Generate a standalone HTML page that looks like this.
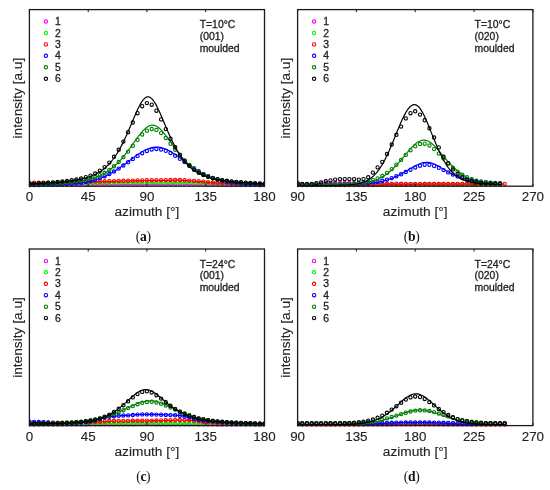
<!DOCTYPE html><html><head><meta charset="utf-8"><title>Azimuthal intensity profiles</title><style>html,body{margin:0;padding:0;background:#fff;}svg{display:block;}.t{font-family:"Liberation Sans", Arial, Helvetica, sans-serif;fill:#222;stroke:#222;stroke-width:0.12px;}.s{stroke-width:0.3px;}.c{font-family:"Liberation Serif", "Times New Roman", serif;fill:#111;}</style></head><body>
<svg width="550" height="490" viewBox="0 0 550 490">
<rect width="550" height="490" fill="#fff"/>
<g><clipPath id="cla"><rect x="29.4" y="9.6" width="235.1" height="179.6"/></clipPath><g clip-path="url(#cla)"><g fill="none" stroke="#ff00ff" stroke-width="1.1"><circle cx="29.4" cy="185" r="1.65"/><circle cx="34.1" cy="185" r="1.65"/><circle cx="38.8" cy="185" r="1.65"/><circle cx="43.5" cy="184.9" r="1.65"/><circle cx="48.2" cy="184.9" r="1.65"/><circle cx="52.9" cy="184.9" r="1.65"/><circle cx="57.6" cy="184.9" r="1.65"/><circle cx="62.3" cy="184.8" r="1.65"/><circle cx="67" cy="184.8" r="1.65"/><circle cx="71.7" cy="184.8" r="1.65"/><circle cx="76.4" cy="184.8" r="1.65"/><circle cx="81.1" cy="184.7" r="1.65"/><circle cx="85.8" cy="184.7" r="1.65"/><circle cx="90.5" cy="184.7" r="1.65"/><circle cx="95.2" cy="184.7" r="1.65"/><circle cx="99.9" cy="184.6" r="1.65"/><circle cx="104.6" cy="184.6" r="1.65"/><circle cx="109.3" cy="184.6" r="1.65"/><circle cx="114" cy="184.6" r="1.65"/><circle cx="118.7" cy="184.5" r="1.65"/><circle cx="123.4" cy="184.5" r="1.65"/><circle cx="128.1" cy="184.5" r="1.65"/><circle cx="132.8" cy="184.4" r="1.65"/><circle cx="137.5" cy="184.4" r="1.65"/><circle cx="142.2" cy="184.4" r="1.65"/><circle cx="146.9" cy="184.4" r="1.65"/><circle cx="151.7" cy="184.3" r="1.65"/><circle cx="156.4" cy="184.3" r="1.65"/><circle cx="161.1" cy="184.3" r="1.65"/><circle cx="165.8" cy="184.3" r="1.65"/><circle cx="170.5" cy="184.2" r="1.65"/><circle cx="175.2" cy="184.2" r="1.65"/><circle cx="179.9" cy="184.2" r="1.65"/><circle cx="184.6" cy="184.3" r="1.65"/><circle cx="189.3" cy="184.3" r="1.65"/><circle cx="194" cy="184.3" r="1.65"/><circle cx="198.7" cy="184.4" r="1.65"/><circle cx="203.4" cy="184.4" r="1.65"/><circle cx="208.1" cy="184.5" r="1.65"/><circle cx="212.8" cy="184.6" r="1.65"/><circle cx="217.5" cy="184.7" r="1.65"/><circle cx="222.2" cy="184.8" r="1.65"/><circle cx="226.9" cy="184.9" r="1.65"/><circle cx="231.6" cy="185" r="1.65"/><circle cx="236.3" cy="185" r="1.65"/><circle cx="241" cy="185.1" r="1.65"/><circle cx="245.7" cy="185.1" r="1.65"/><circle cx="250.4" cy="185.1" r="1.65"/><circle cx="255.1" cy="185.1" r="1.65"/><circle cx="259.8" cy="185.2" r="1.65"/><circle cx="264.5" cy="185.2" r="1.65"/></g><polyline fill="none" stroke="#ff00ff" stroke-width="1.2" stroke-linejoin="round" points="29.4,185 30.6,185 31.8,185 32.9,185 34.1,185 35.3,185 36.5,185 37.6,185 38.8,185 40,184.9 41.2,184.9 42.3,184.9 43.5,184.9 44.7,184.9 45.9,184.9 47,184.9 48.2,184.9 49.4,184.9 50.6,184.9 51.7,184.9 52.9,184.9 54.1,184.9 55.3,184.9 56.4,184.9 57.6,184.9 58.8,184.9 60,184.8 61.1,184.8 62.3,184.8 63.5,184.8 64.7,184.8 65.8,184.8 67,184.8 68.2,184.8 69.4,184.8 70.5,184.8 71.7,184.8 72.9,184.8 74.1,184.8 75.2,184.8 76.4,184.8 77.6,184.8 78.8,184.8 79.9,184.7 81.1,184.7 82.3,184.7 83.5,184.7 84.6,184.7 85.8,184.7 87,184.7 88.2,184.7 89.4,184.7 90.5,184.7 91.7,184.7 92.9,184.7 94.1,184.7 95.2,184.7 96.4,184.7 97.6,184.7 98.8,184.6 99.9,184.6 101.1,184.6 102.3,184.6 103.5,184.6 104.6,184.6 105.8,184.6 107,184.6 108.2,184.6 109.3,184.6 110.5,184.6 111.7,184.6 112.9,184.6 114,184.6 115.2,184.5 116.4,184.5 117.6,184.5 118.7,184.5 119.9,184.5 121.1,184.5 122.3,184.5 123.4,184.5 124.6,184.5 125.8,184.5 127,184.5 128.1,184.5 129.3,184.5 130.5,184.5 131.7,184.4 132.8,184.4 134,184.4 135.2,184.4 136.4,184.4 137.5,184.4 138.7,184.4 139.9,184.4 141.1,184.4 142.2,184.4 143.4,184.4 144.6,184.4 145.8,184.4 147,184.4 148.1,184.4 149.3,184.4 150.5,184.3 151.7,184.3 152.8,184.3 154,184.3 155.2,184.3 156.4,184.3 157.5,184.3 158.7,184.3 159.9,184.3 161.1,184.3 162.2,184.3 163.4,184.3 164.6,184.3 165.8,184.3 166.9,184.3 168.1,184.3 169.3,184.3 170.5,184.2 171.6,184.2 172.8,184.2 174,184.2 175.2,184.2 176.3,184.2 177.5,184.2 178.7,184.2 179.9,184.2 181,184.2 182.2,184.2 183.4,184.2 184.6,184.3 185.7,184.3 186.9,184.3 188.1,184.3 189.3,184.3 190.4,184.3 191.6,184.3 192.8,184.3 194,184.3 195.1,184.4 196.3,184.4 197.5,184.4 198.7,184.4 199.8,184.4 201,184.4 202.2,184.4 203.4,184.4 204.5,184.5 205.7,184.5 206.9,184.5 208.1,184.5 209.3,184.5 210.4,184.5 211.6,184.6 212.8,184.6 214,184.6 215.1,184.6 216.3,184.7 217.5,184.7 218.7,184.7 219.8,184.8 221,184.8 222.2,184.8 223.4,184.8 224.5,184.9 225.7,184.9 226.9,184.9 228.1,185 229.2,185 230.4,185 231.6,185 232.8,185 233.9,185 235.1,185 236.3,185 237.5,185 238.6,185.1 239.8,185.1 241,185.1 242.2,185.1 243.3,185.1 244.5,185.1 245.7,185.1 246.9,185.1 248,185.1 249.2,185.1 250.4,185.1 251.6,185.1 252.7,185.1 253.9,185.1 255.1,185.1 256.3,185.2 257.4,185.2 258.6,185.2 259.8,185.2 261,185.2 262.1,185.2 263.3,185.2 264.5,185.2"/><g fill="none" stroke="#00ff00" stroke-width="1.1"><circle cx="29.4" cy="184" r="1.65"/><circle cx="34.1" cy="183.9" r="1.65"/><circle cx="38.8" cy="183.9" r="1.65"/><circle cx="43.5" cy="183.8" r="1.65"/><circle cx="48.2" cy="183.7" r="1.65"/><circle cx="52.9" cy="183.6" r="1.65"/><circle cx="57.6" cy="183.6" r="1.65"/><circle cx="62.3" cy="183.5" r="1.65"/><circle cx="67" cy="183.4" r="1.65"/><circle cx="71.7" cy="183.4" r="1.65"/><circle cx="76.4" cy="183.3" r="1.65"/><circle cx="81.1" cy="183.2" r="1.65"/><circle cx="85.8" cy="183.1" r="1.65"/><circle cx="90.5" cy="183" r="1.65"/><circle cx="95.2" cy="182.9" r="1.65"/><circle cx="99.9" cy="182.8" r="1.65"/><circle cx="104.6" cy="182.8" r="1.65"/><circle cx="109.3" cy="182.7" r="1.65"/><circle cx="114" cy="182.7" r="1.65"/><circle cx="118.7" cy="182.7" r="1.65"/><circle cx="123.4" cy="182.6" r="1.65"/><circle cx="128.1" cy="182.6" r="1.65"/><circle cx="132.8" cy="182.5" r="1.65"/><circle cx="137.5" cy="182.5" r="1.65"/><circle cx="142.2" cy="182.5" r="1.65"/><circle cx="146.9" cy="182.5" r="1.65"/><circle cx="151.7" cy="182.5" r="1.65"/><circle cx="156.4" cy="182.5" r="1.65"/><circle cx="161.1" cy="182.5" r="1.65"/><circle cx="165.8" cy="182.5" r="1.65"/><circle cx="170.5" cy="182.5" r="1.65"/><circle cx="175.2" cy="182.5" r="1.65"/><circle cx="179.9" cy="182.5" r="1.65"/><circle cx="184.6" cy="182.5" r="1.65"/><circle cx="189.3" cy="182.5" r="1.65"/><circle cx="194" cy="182.7" r="1.65"/><circle cx="198.7" cy="182.8" r="1.65"/><circle cx="203.4" cy="183" r="1.65"/><circle cx="208.1" cy="183.1" r="1.65"/><circle cx="212.8" cy="183.2" r="1.65"/><circle cx="217.5" cy="183.4" r="1.65"/><circle cx="222.2" cy="183.5" r="1.65"/><circle cx="226.9" cy="183.6" r="1.65"/><circle cx="231.6" cy="183.7" r="1.65"/><circle cx="236.3" cy="183.9" r="1.65"/><circle cx="241" cy="184" r="1.65"/><circle cx="245.7" cy="184.1" r="1.65"/><circle cx="250.4" cy="184.2" r="1.65"/><circle cx="255.1" cy="184.3" r="1.65"/><circle cx="259.8" cy="184.4" r="1.65"/><circle cx="264.5" cy="184.5" r="1.65"/></g><polyline fill="none" stroke="#00ff00" stroke-width="1.2" stroke-linejoin="round" points="29.4,184 30.6,184 31.8,184 32.9,183.9 34.1,183.9 35.3,183.9 36.5,183.9 37.6,183.9 38.8,183.9 40,183.8 41.2,183.8 42.3,183.8 43.5,183.8 44.7,183.8 45.9,183.8 47,183.7 48.2,183.7 49.4,183.7 50.6,183.7 51.7,183.7 52.9,183.6 54.1,183.6 55.3,183.6 56.4,183.6 57.6,183.6 58.8,183.6 60,183.5 61.1,183.5 62.3,183.5 63.5,183.5 64.7,183.5 65.8,183.5 67,183.4 68.2,183.4 69.4,183.4 70.5,183.4 71.7,183.4 72.9,183.3 74.1,183.3 75.2,183.3 76.4,183.3 77.6,183.2 78.8,183.2 79.9,183.2 81.1,183.2 82.3,183.1 83.5,183.1 84.6,183.1 85.8,183.1 87,183 88.2,183 89.4,183 90.5,183 91.7,183 92.9,182.9 94.1,182.9 95.2,182.9 96.4,182.9 97.6,182.8 98.8,182.8 99.9,182.8 101.1,182.8 102.3,182.8 103.5,182.8 104.6,182.8 105.8,182.8 107,182.7 108.2,182.7 109.3,182.7 110.5,182.7 111.7,182.7 112.9,182.7 114,182.7 115.2,182.7 116.4,182.7 117.6,182.7 118.7,182.7 119.9,182.6 121.1,182.6 122.3,182.6 123.4,182.6 124.6,182.6 125.8,182.6 127,182.6 128.1,182.6 129.3,182.6 130.5,182.6 131.7,182.6 132.8,182.5 134,182.5 135.2,182.5 136.4,182.5 137.5,182.5 138.7,182.5 139.9,182.5 141.1,182.5 142.2,182.5 143.4,182.5 144.6,182.5 145.8,182.5 147,182.5 148.1,182.5 149.3,182.5 150.5,182.5 151.7,182.5 152.8,182.5 154,182.5 155.2,182.5 156.4,182.5 157.5,182.5 158.7,182.5 159.9,182.5 161.1,182.5 162.2,182.5 163.4,182.5 164.6,182.5 165.8,182.5 166.9,182.5 168.1,182.5 169.3,182.5 170.5,182.5 171.6,182.5 172.8,182.5 174,182.5 175.2,182.5 176.3,182.5 177.5,182.5 178.7,182.5 179.9,182.5 181,182.5 182.2,182.5 183.4,182.5 184.6,182.5 185.7,182.5 186.9,182.5 188.1,182.5 189.3,182.5 190.4,182.5 191.6,182.6 192.8,182.6 194,182.7 195.1,182.7 196.3,182.7 197.5,182.8 198.7,182.8 199.8,182.8 201,182.9 202.2,182.9 203.4,183 204.5,183 205.7,183 206.9,183.1 208.1,183.1 209.3,183.1 210.4,183.2 211.6,183.2 212.8,183.2 214,183.3 215.1,183.3 216.3,183.3 217.5,183.4 218.7,183.4 219.8,183.4 221,183.5 222.2,183.5 223.4,183.5 224.5,183.6 225.7,183.6 226.9,183.6 228.1,183.7 229.2,183.7 230.4,183.7 231.6,183.7 232.8,183.8 233.9,183.8 235.1,183.8 236.3,183.9 237.5,183.9 238.6,183.9 239.8,183.9 241,184 242.2,184 243.3,184 244.5,184 245.7,184.1 246.9,184.1 248,184.1 249.2,184.2 250.4,184.2 251.6,184.2 252.7,184.2 253.9,184.3 255.1,184.3 256.3,184.3 257.4,184.3 258.6,184.4 259.8,184.4 261,184.4 262.1,184.4 263.3,184.5 264.5,184.5"/><g fill="none" stroke="#ff0000" stroke-width="1.1"><circle cx="29.4" cy="182.7" r="1.65"/><circle cx="34.1" cy="182.7" r="1.65"/><circle cx="38.8" cy="182.7" r="1.65"/><circle cx="43.5" cy="182.7" r="1.65"/><circle cx="48.2" cy="182.7" r="1.65"/><circle cx="52.9" cy="182.7" r="1.65"/><circle cx="57.6" cy="182.7" r="1.65"/><circle cx="62.3" cy="182.6" r="1.65"/><circle cx="67" cy="182.5" r="1.65"/><circle cx="71.7" cy="182.4" r="1.65"/><circle cx="76.4" cy="182.3" r="1.65"/><circle cx="81.1" cy="182.1" r="1.65"/><circle cx="85.8" cy="182" r="1.65"/><circle cx="90.5" cy="181.8" r="1.65"/><circle cx="95.2" cy="181.6" r="1.65"/><circle cx="99.9" cy="181.5" r="1.65"/><circle cx="104.6" cy="181.3" r="1.65"/><circle cx="109.3" cy="181.2" r="1.65"/><circle cx="114" cy="181.1" r="1.65"/><circle cx="118.7" cy="180.9" r="1.65"/><circle cx="123.4" cy="180.8" r="1.65"/><circle cx="128.1" cy="180.7" r="1.65"/><circle cx="132.8" cy="180.6" r="1.65"/><circle cx="137.5" cy="180.4" r="1.65"/><circle cx="142.2" cy="180.4" r="1.65"/><circle cx="146.9" cy="180.3" r="1.65"/><circle cx="151.7" cy="180.2" r="1.65"/><circle cx="156.4" cy="180.1" r="1.65"/><circle cx="161.1" cy="180.1" r="1.65"/><circle cx="165.8" cy="180.1" r="1.65"/><circle cx="170.5" cy="180" r="1.65"/><circle cx="175.2" cy="180" r="1.65"/><circle cx="179.9" cy="180" r="1.65"/><circle cx="184.6" cy="180.3" r="1.65"/><circle cx="189.3" cy="180.6" r="1.65"/><circle cx="194" cy="180.9" r="1.65"/><circle cx="198.7" cy="181.2" r="1.65"/><circle cx="203.4" cy="181.6" r="1.65"/><circle cx="208.1" cy="182.1" r="1.65"/><circle cx="212.8" cy="182.5" r="1.65"/><circle cx="217.5" cy="182.8" r="1.65"/><circle cx="222.2" cy="183.1" r="1.65"/><circle cx="226.9" cy="183.3" r="1.65"/><circle cx="231.6" cy="183.6" r="1.65"/><circle cx="236.3" cy="183.7" r="1.65"/><circle cx="241" cy="183.9" r="1.65"/><circle cx="245.7" cy="184.1" r="1.65"/><circle cx="250.4" cy="184.2" r="1.65"/><circle cx="255.1" cy="184.3" r="1.65"/><circle cx="259.8" cy="184.4" r="1.65"/><circle cx="264.5" cy="184.5" r="1.65"/></g><polyline fill="none" stroke="#ff0000" stroke-width="1.2" stroke-linejoin="round" points="29.4,182.9 30.6,182.9 31.8,182.9 32.9,182.9 34.1,182.9 35.3,182.9 36.5,182.9 37.6,182.9 38.8,182.9 40,182.9 41.2,182.9 42.3,182.9 43.5,182.9 44.7,182.9 45.9,182.9 47,182.9 48.2,182.9 49.4,182.9 50.6,182.9 51.7,182.9 52.9,182.9 54.1,182.9 55.3,182.9 56.4,182.9 57.6,182.9 58.8,182.9 60,182.9 61.1,182.9 62.3,182.8 63.5,182.8 64.7,182.8 65.8,182.7 67,182.7 68.2,182.7 69.4,182.7 70.5,182.6 71.7,182.6 72.9,182.6 74.1,182.5 75.2,182.5 76.4,182.5 77.6,182.4 78.8,182.4 79.9,182.4 81.1,182.3 82.3,182.3 83.5,182.3 84.6,182.2 85.8,182.2 87,182.1 88.2,182.1 89.4,182.1 90.5,182 91.7,182 92.9,181.9 94.1,181.9 95.2,181.8 96.4,181.8 97.6,181.8 98.8,181.7 99.9,181.7 101.1,181.6 102.3,181.6 103.5,181.6 104.6,181.5 105.8,181.5 107,181.5 108.2,181.4 109.3,181.4 110.5,181.4 111.7,181.3 112.9,181.3 114,181.3 115.2,181.2 116.4,181.2 117.6,181.2 118.7,181.1 119.9,181.1 121.1,181.1 122.3,181 123.4,181 124.6,181 125.8,180.9 127,180.9 128.1,180.9 129.3,180.9 130.5,180.8 131.7,180.8 132.8,180.8 134,180.7 135.2,180.7 136.4,180.7 137.5,180.6 138.7,180.6 139.9,180.6 141.1,180.6 142.2,180.6 143.4,180.5 144.6,180.5 145.8,180.5 147,180.5 148.1,180.5 149.3,180.5 150.5,180.4 151.7,180.4 152.8,180.4 154,180.4 155.2,180.4 156.4,180.3 157.5,180.3 158.7,180.3 159.9,180.3 161.1,180.3 162.2,180.3 163.4,180.3 164.6,180.3 165.8,180.3 166.9,180.3 168.1,180.3 169.3,180.3 170.5,180.2 171.6,180.2 172.8,180.2 174,180.2 175.2,180.2 176.3,180.2 177.5,180.2 178.7,180.2 179.9,180.2 181,180.3 182.2,180.4 183.4,180.4 184.6,180.5 185.7,180.6 186.9,180.7 188.1,180.7 189.3,180.8 190.4,180.9 191.6,181 192.8,181 194,181.1 195.1,181.2 196.3,181.3 197.5,181.4 198.7,181.4 199.8,181.5 201,181.6 202.2,181.7 203.4,181.8 204.5,181.9 205.7,182 206.9,182.2 208.1,182.3 209.3,182.4 210.4,182.5 211.6,182.6 212.8,182.7 214,182.8 215.1,182.8 216.3,182.9 217.5,183 218.7,183.1 219.8,183.1 221,183.2 222.2,183.3 223.4,183.3 224.5,183.4 225.7,183.5 226.9,183.5 228.1,183.6 229.2,183.7 230.4,183.7 231.6,183.8 232.8,183.8 233.9,183.9 235.1,183.9 236.3,183.9 237.5,184 238.6,184 239.8,184.1 241,184.1 242.2,184.1 243.3,184.2 244.5,184.2 245.7,184.3 246.9,184.3 248,184.4 249.2,184.4 250.4,184.4 251.6,184.4 252.7,184.5 253.9,184.5 255.1,184.5 256.3,184.5 257.4,184.6 258.6,184.6 259.8,184.6 261,184.6 262.1,184.7 263.3,184.7 264.5,184.7"/><g fill="none" stroke="#0000ff" stroke-width="1.1"><circle cx="29.4" cy="185.2" r="1.65"/><circle cx="34.1" cy="185.1" r="1.65"/><circle cx="38.8" cy="185" r="1.65"/><circle cx="43.5" cy="184.9" r="1.65"/><circle cx="48.2" cy="184.8" r="1.65"/><circle cx="52.9" cy="184.7" r="1.65"/><circle cx="57.6" cy="184.6" r="1.65"/><circle cx="62.3" cy="184.4" r="1.65"/><circle cx="67" cy="184.1" r="1.65"/><circle cx="71.7" cy="183.8" r="1.65"/><circle cx="76.4" cy="183.3" r="1.65"/><circle cx="81.1" cy="182.7" r="1.65"/><circle cx="85.8" cy="181.9" r="1.65"/><circle cx="90.5" cy="180.9" r="1.65"/><circle cx="95.2" cy="179.7" r="1.65"/><circle cx="99.9" cy="178.1" r="1.65"/><circle cx="104.6" cy="176.2" r="1.65"/><circle cx="109.3" cy="174" r="1.65"/><circle cx="114" cy="171.5" r="1.65"/><circle cx="118.7" cy="168.6" r="1.65"/><circle cx="123.4" cy="165.5" r="1.65"/><circle cx="128.1" cy="162.3" r="1.65"/><circle cx="132.8" cy="159" r="1.65"/><circle cx="137.5" cy="155.9" r="1.65"/><circle cx="142.2" cy="153.2" r="1.65"/><circle cx="146.9" cy="151" r="1.65"/><circle cx="151.7" cy="149.5" r="1.65"/><circle cx="156.4" cy="149" r="1.65"/><circle cx="161.1" cy="149.5" r="1.65"/><circle cx="165.8" cy="150.8" r="1.65"/><circle cx="170.5" cy="153" r="1.65"/><circle cx="175.2" cy="155.8" r="1.65"/><circle cx="179.9" cy="158.8" r="1.65"/><circle cx="184.6" cy="162.1" r="1.65"/><circle cx="189.3" cy="165.3" r="1.65"/><circle cx="194" cy="168.4" r="1.65"/><circle cx="198.7" cy="171.3" r="1.65"/><circle cx="203.4" cy="173.9" r="1.65"/><circle cx="208.1" cy="176.1" r="1.65"/><circle cx="212.8" cy="178" r="1.65"/><circle cx="217.5" cy="179.6" r="1.65"/><circle cx="222.2" cy="180.9" r="1.65"/><circle cx="226.9" cy="181.9" r="1.65"/><circle cx="231.6" cy="182.7" r="1.65"/><circle cx="236.3" cy="183.3" r="1.65"/><circle cx="241" cy="183.7" r="1.65"/><circle cx="245.7" cy="184.1" r="1.65"/><circle cx="250.4" cy="184.3" r="1.65"/><circle cx="255.1" cy="184.6" r="1.65"/><circle cx="259.8" cy="184.7" r="1.65"/><circle cx="264.5" cy="184.8" r="1.65"/></g><polyline fill="none" stroke="#0000ff" stroke-width="1.2" stroke-linejoin="round" points="29.4,185.2 30.6,185.2 31.8,185.1 32.9,185.1 34.1,185.1 35.3,185.1 36.5,185.1 37.6,185.1 38.8,185 40,185 41.2,185 42.3,185 43.5,185 44.7,184.9 45.9,184.9 47,184.9 48.2,184.9 49.4,184.8 50.6,184.8 51.7,184.8 52.9,184.7 54.1,184.7 55.3,184.7 56.4,184.6 57.6,184.6 58.8,184.6 60,184.5 61.1,184.5 62.3,184.4 63.5,184.3 64.7,184.3 65.8,184.2 67,184.2 68.2,184.1 69.4,184 70.5,183.9 71.7,183.8 72.9,183.7 74.1,183.6 75.2,183.5 76.4,183.4 77.6,183.3 78.8,183.1 79.9,183 81.1,182.8 82.3,182.7 83.5,182.5 84.6,182.3 85.8,182.1 87,181.9 88.2,181.6 89.4,181.4 90.5,181.1 91.7,180.8 92.9,180.5 94.1,180.2 95.2,179.9 96.4,179.5 97.6,179.1 98.8,178.7 99.9,178.3 101.1,177.9 102.3,177.4 103.5,176.9 104.6,176.4 105.8,175.9 107,175.3 108.2,174.7 109.3,174.1 110.5,173.5 111.7,172.8 112.9,172.2 114,171.5 115.2,170.7 116.4,170 117.6,169.2 118.7,168.5 119.9,167.7 121.1,166.8 122.3,166 123.4,165.2 124.6,164.3 125.8,163.4 127,162.6 128.1,161.7 129.3,160.8 130.5,159.9 131.7,159 132.8,158.1 134,157.3 135.2,156.4 136.4,155.6 137.5,154.8 138.7,154 139.9,153.2 141.1,152.4 142.2,151.7 143.4,151 144.6,150.4 145.8,149.8 147,149.3 148.1,148.8 149.3,148.4 150.5,148 151.7,147.7 152.8,147.4 154,147.3 155.2,147.1 156.4,147.1 157.5,147.1 158.7,147.2 159.9,147.4 161.1,147.6 162.2,147.9 163.4,148.3 164.6,148.7 165.8,149.2 166.9,149.7 168.1,150.3 169.3,150.9 170.5,151.5 171.6,152.2 172.8,153 174,153.8 175.2,154.6 176.3,155.4 177.5,156.2 178.7,157.1 179.9,157.9 181,158.8 182.2,159.7 183.4,160.6 184.6,161.5 185.7,162.3 186.9,163.2 188.1,164.1 189.3,164.9 190.4,165.8 191.6,166.6 192.8,167.5 194,168.3 195.1,169 196.3,169.8 197.5,170.6 198.7,171.3 199.8,172 201,172.7 202.2,173.3 203.4,174 204.5,174.6 205.7,175.2 206.9,175.7 208.1,176.3 209.3,176.8 210.4,177.3 211.6,177.8 212.8,178.2 214,178.6 215.1,179 216.3,179.4 217.5,179.8 218.7,180.1 219.8,180.5 221,180.8 222.2,181 223.4,181.3 224.5,181.6 225.7,181.8 226.9,182 228.1,182.2 229.2,182.4 230.4,182.6 231.6,182.8 232.8,183 233.9,183.1 235.1,183.2 236.3,183.4 237.5,183.5 238.6,183.6 239.8,183.7 241,183.8 242.2,183.9 243.3,184 244.5,184.1 245.7,184.1 246.9,184.2 248,184.3 249.2,184.3 250.4,184.4 251.6,184.4 252.7,184.5 253.9,184.5 255.1,184.6 256.3,184.6 257.4,184.7 258.6,184.7 259.8,184.7 261,184.8 262.1,184.8 263.3,184.8 264.5,184.9"/><g fill="none" stroke="#008000" stroke-width="1.1"><circle cx="29.4" cy="184.4" r="1.65"/><circle cx="34.1" cy="184.2" r="1.65"/><circle cx="38.8" cy="184" r="1.65"/><circle cx="43.5" cy="183.8" r="1.65"/><circle cx="48.2" cy="183.6" r="1.65"/><circle cx="52.9" cy="183.4" r="1.65"/><circle cx="57.6" cy="183.1" r="1.65"/><circle cx="62.3" cy="182.8" r="1.65"/><circle cx="67" cy="182.4" r="1.65"/><circle cx="71.7" cy="181.9" r="1.65"/><circle cx="76.4" cy="181.3" r="1.65"/><circle cx="81.1" cy="180.6" r="1.65"/><circle cx="85.8" cy="179.7" r="1.65"/><circle cx="90.5" cy="178.5" r="1.65"/><circle cx="95.2" cy="177.1" r="1.65"/><circle cx="99.9" cy="175.2" r="1.65"/><circle cx="104.6" cy="172.8" r="1.65"/><circle cx="109.3" cy="169.9" r="1.65"/><circle cx="114" cy="166.3" r="1.65"/><circle cx="118.7" cy="162" r="1.65"/><circle cx="123.4" cy="157.1" r="1.65"/><circle cx="128.1" cy="151.6" r="1.65"/><circle cx="132.8" cy="145.7" r="1.65"/><circle cx="137.5" cy="139.8" r="1.65"/><circle cx="142.2" cy="134.5" r="1.65"/><circle cx="146.9" cy="130.7" r="1.65"/><circle cx="151.7" cy="129" r="1.65"/><circle cx="156.4" cy="129.9" r="1.65"/><circle cx="161.1" cy="133.1" r="1.65"/><circle cx="165.8" cy="138" r="1.65"/><circle cx="170.5" cy="143.8" r="1.65"/><circle cx="175.2" cy="149.7" r="1.65"/><circle cx="179.9" cy="155.4" r="1.65"/><circle cx="184.6" cy="160.5" r="1.65"/><circle cx="189.3" cy="165" r="1.65"/><circle cx="194" cy="168.8" r="1.65"/><circle cx="198.7" cy="172" r="1.65"/><circle cx="203.4" cy="174.5" r="1.65"/><circle cx="208.1" cy="176.5" r="1.65"/><circle cx="212.8" cy="178.1" r="1.65"/><circle cx="217.5" cy="179.4" r="1.65"/><circle cx="222.2" cy="180.3" r="1.65"/><circle cx="226.9" cy="181.1" r="1.65"/><circle cx="231.6" cy="181.7" r="1.65"/><circle cx="236.3" cy="182.2" r="1.65"/><circle cx="241" cy="182.6" r="1.65"/><circle cx="245.7" cy="183" r="1.65"/><circle cx="250.4" cy="183.3" r="1.65"/><circle cx="255.1" cy="183.6" r="1.65"/><circle cx="259.8" cy="183.8" r="1.65"/><circle cx="264.5" cy="184" r="1.65"/></g><polyline fill="none" stroke="#008000" stroke-width="1.2" stroke-linejoin="round" points="29.4,184.4 30.6,184.4 31.8,184.3 32.9,184.3 34.1,184.2 35.3,184.2 36.5,184.2 37.6,184.1 38.8,184.1 40,184 41.2,184 42.3,183.9 43.5,183.9 44.7,183.8 45.9,183.8 47,183.7 48.2,183.7 49.4,183.6 50.6,183.5 51.7,183.5 52.9,183.4 54.1,183.4 55.3,183.3 56.4,183.2 57.6,183.1 58.8,183.1 60,183 61.1,182.9 62.3,182.8 63.5,182.7 64.7,182.6 65.8,182.5 67,182.4 68.2,182.3 69.4,182.2 70.5,182.1 71.7,182 72.9,181.8 74.1,181.7 75.2,181.6 76.4,181.4 77.6,181.3 78.8,181.1 79.9,180.9 81.1,180.7 82.3,180.5 83.5,180.3 84.6,180.1 85.8,179.8 87,179.6 88.2,179.3 89.4,179 90.5,178.7 91.7,178.4 92.9,178.1 94.1,177.7 95.2,177.3 96.4,176.9 97.6,176.4 98.8,176 99.9,175.5 101.1,174.9 102.3,174.3 103.5,173.7 104.6,173.1 105.8,172.4 107,171.7 108.2,170.9 109.3,170.1 110.5,169.2 111.7,168.3 112.9,167.4 114,166.4 115.2,165.3 116.4,164.2 117.6,163.1 118.7,161.9 119.9,160.6 121.1,159.3 122.3,158 123.4,156.6 124.6,155.2 125.8,153.7 127,152.2 128.1,150.6 129.3,149 130.5,147.4 131.7,145.7 132.8,144.1 134,142.4 135.2,140.8 136.4,139.1 137.5,137.5 138.7,135.9 139.9,134.4 141.1,132.9 142.2,131.6 143.4,130.3 144.6,129.1 145.8,128.1 147,127.2 148.1,126.4 149.3,125.8 150.5,125.5 151.7,125.2 152.8,125.2 154,125.4 155.2,125.7 156.4,126.2 157.5,126.9 158.7,127.8 159.9,128.8 161.1,129.9 162.2,131.2 163.4,132.6 164.6,134 165.8,135.5 166.9,137.1 168.1,138.7 169.3,140.3 170.5,142 171.6,143.6 172.8,145.3 174,146.9 175.2,148.6 176.3,150.2 177.5,151.7 178.7,153.3 179.9,154.8 181,156.2 182.2,157.6 183.4,159 184.6,160.3 185.7,161.6 186.9,162.8 188.1,163.9 189.3,165 190.4,166.1 191.6,167.1 192.8,168.1 194,169 195.1,169.9 196.3,170.7 197.5,171.5 198.7,172.2 199.8,172.9 201,173.6 202.2,174.2 203.4,174.8 204.5,175.3 205.7,175.8 206.9,176.3 208.1,176.8 209.3,177.2 210.4,177.6 211.6,178 212.8,178.3 214,178.7 215.1,179 216.3,179.3 217.5,179.5 218.7,179.8 219.8,180 221,180.3 222.2,180.5 223.4,180.7 224.5,180.9 225.7,181 226.9,181.2 228.1,181.4 229.2,181.5 230.4,181.7 231.6,181.8 232.8,181.9 233.9,182.1 235.1,182.2 236.3,182.3 237.5,182.4 238.6,182.5 239.8,182.6 241,182.7 242.2,182.8 243.3,182.9 244.5,183 245.7,183 246.9,183.1 248,183.2 249.2,183.3 250.4,183.3 251.6,183.4 252.7,183.5 253.9,183.5 255.1,183.6 256.3,183.6 257.4,183.7 258.6,183.8 259.8,183.8 261,183.9 262.1,183.9 263.3,184 264.5,184"/><g fill="none" stroke="#000000" stroke-width="1.1"><circle cx="29.4" cy="183.8" r="1.65"/><circle cx="34.1" cy="183.6" r="1.65"/><circle cx="38.8" cy="183.3" r="1.65"/><circle cx="43.5" cy="183.1" r="1.65"/><circle cx="48.2" cy="182.8" r="1.65"/><circle cx="52.9" cy="182.4" r="1.65"/><circle cx="57.6" cy="182" r="1.65"/><circle cx="62.3" cy="181.5" r="1.65"/><circle cx="67" cy="181" r="1.65"/><circle cx="71.7" cy="180.3" r="1.65"/><circle cx="76.4" cy="179.5" r="1.65"/><circle cx="81.1" cy="178.5" r="1.65"/><circle cx="85.8" cy="177.2" r="1.65"/><circle cx="90.5" cy="175.6" r="1.65"/><circle cx="95.2" cy="173.5" r="1.65"/><circle cx="99.9" cy="170.7" r="1.65"/><circle cx="104.6" cy="167.1" r="1.65"/><circle cx="109.3" cy="162.6" r="1.65"/><circle cx="114" cy="156.8" r="1.65"/><circle cx="118.7" cy="149.8" r="1.65"/><circle cx="123.4" cy="141.6" r="1.65"/><circle cx="128.1" cy="132.2" r="1.65"/><circle cx="132.8" cy="122.5" r="1.65"/><circle cx="137.5" cy="113.2" r="1.65"/><circle cx="142.2" cy="106.2" r="1.65"/><circle cx="146.9" cy="103.1" r="1.65"/><circle cx="151.7" cy="104.7" r="1.65"/><circle cx="156.4" cy="110.7" r="1.65"/><circle cx="161.1" cy="119.4" r="1.65"/><circle cx="165.8" cy="129.1" r="1.65"/><circle cx="170.5" cy="138.7" r="1.65"/><circle cx="175.2" cy="147.3" r="1.65"/><circle cx="179.9" cy="154.7" r="1.65"/><circle cx="184.6" cy="160.9" r="1.65"/><circle cx="189.3" cy="165.8" r="1.65"/><circle cx="194" cy="169.7" r="1.65"/><circle cx="198.7" cy="172.7" r="1.65"/><circle cx="203.4" cy="175" r="1.65"/><circle cx="208.1" cy="176.8" r="1.65"/><circle cx="212.8" cy="178.1" r="1.65"/><circle cx="217.5" cy="179.2" r="1.65"/><circle cx="222.2" cy="180.1" r="1.65"/><circle cx="226.9" cy="180.8" r="1.65"/><circle cx="231.6" cy="181.4" r="1.65"/><circle cx="236.3" cy="181.9" r="1.65"/><circle cx="241" cy="182.3" r="1.65"/><circle cx="245.7" cy="182.7" r="1.65"/><circle cx="250.4" cy="183" r="1.65"/><circle cx="255.1" cy="183.3" r="1.65"/><circle cx="259.8" cy="183.5" r="1.65"/><circle cx="264.5" cy="183.7" r="1.65"/></g><polyline fill="none" stroke="#000000" stroke-width="1.2" stroke-linejoin="round" points="29.4,183.9 30.6,183.9 31.8,183.8 32.9,183.8 34.1,183.7 35.3,183.7 36.5,183.6 37.6,183.6 38.8,183.5 40,183.4 41.2,183.4 42.3,183.3 43.5,183.2 44.7,183.2 45.9,183.1 47,183 48.2,182.9 49.4,182.8 50.6,182.8 51.7,182.7 52.9,182.6 54.1,182.5 55.3,182.4 56.4,182.3 57.6,182.2 58.8,182.1 60,182 61.1,181.9 62.3,181.7 63.5,181.6 64.7,181.5 65.8,181.4 67,181.2 68.2,181.1 69.4,180.9 70.5,180.8 71.7,180.6 72.9,180.4 74.1,180.2 75.2,180 76.4,179.8 77.6,179.6 78.8,179.4 79.9,179.2 81.1,178.9 82.3,178.7 83.5,178.4 84.6,178.1 85.8,177.8 87,177.4 88.2,177.1 89.4,176.7 90.5,176.3 91.7,175.8 92.9,175.3 94.1,174.8 95.2,174.3 96.4,173.7 97.6,173.1 98.8,172.4 99.9,171.7 101.1,170.9 102.3,170.1 103.5,169.2 104.6,168.2 105.8,167.2 107,166.1 108.2,165 109.3,163.7 110.5,162.4 111.7,161 112.9,159.5 114,157.9 115.2,156.2 116.4,154.5 117.6,152.6 118.7,150.6 119.9,148.5 121.1,146.4 122.3,144.1 123.4,141.8 124.6,139.3 125.8,136.8 127,134.2 128.1,131.5 129.3,128.8 130.5,126 131.7,123.3 132.8,120.4 134,117.7 135.2,114.9 136.4,112.2 137.5,109.7 138.7,107.2 139.9,105 141.1,102.9 142.2,101.1 143.4,99.6 144.6,98.3 145.8,97.5 147,96.9 148.1,96.8 149.3,97 150.5,97.6 151.7,98.6 152.8,99.9 154,101.5 155.2,103.3 156.4,105.4 157.5,107.7 158.7,110.2 159.9,112.8 161.1,115.5 162.2,118.3 163.4,121 164.6,123.8 165.8,126.6 166.9,129.4 168.1,132.1 169.3,134.8 170.5,137.4 171.6,139.9 172.8,142.3 174,144.6 175.2,146.9 176.3,149 177.5,151 178.7,153 179.9,154.8 181,156.6 182.2,158.3 183.4,159.8 184.6,161.3 185.7,162.7 186.9,164 188.1,165.2 189.3,166.4 190.4,167.4 191.6,168.5 192.8,169.4 194,170.3 195.1,171.1 196.3,171.8 197.5,172.6 198.7,173.2 199.8,173.8 201,174.4 202.2,174.9 203.4,175.4 204.5,175.9 205.7,176.3 206.9,176.7 208.1,177.1 209.3,177.5 210.4,177.8 211.6,178.1 212.8,178.4 214,178.7 215.1,179 216.3,179.2 217.5,179.5 218.7,179.7 219.8,179.9 221,180.1 222.2,180.3 223.4,180.5 224.5,180.6 225.7,180.8 226.9,181 228.1,181.1 229.2,181.3 230.4,181.4 231.6,181.5 232.8,181.7 233.9,181.8 235.1,181.9 236.3,182 237.5,182.1 238.6,182.2 239.8,182.3 241,182.4 242.2,182.5 243.3,182.6 244.5,182.7 245.7,182.8 246.9,182.9 248,182.9 249.2,183 250.4,183.1 251.6,183.2 252.7,183.2 253.9,183.3 255.1,183.4 256.3,183.4 257.4,183.5 258.6,183.6 259.8,183.6 261,183.7 262.1,183.7 263.3,183.8 264.5,183.8"/></g><rect x="29.4" y="9.6" width="235.1" height="176.6" fill="none" stroke="#1a1a1a" stroke-width="1.3"/><path d="M29.4 9.6v2.6M29.4 186.2v-2.6M88.2 9.6v2.6M88.2 186.2v-2.6M146.9 9.6v2.6M146.9 186.2v-2.6M205.7 9.6v2.6M205.7 186.2v-2.6M264.5 9.6v2.6M264.5 186.2v-2.6" stroke="#1a1a1a" stroke-width="1"/><text class="t" x="29.4" y="201.4" font-size="13.4" text-anchor="middle">0</text><text class="t" x="88.2" y="201.4" font-size="13.4" text-anchor="middle">45</text><text class="t" x="146.9" y="201.4" font-size="13.4" text-anchor="middle">90</text><text class="t" x="205.7" y="201.4" font-size="13.4" text-anchor="middle">135</text><text class="t" x="264.5" y="201.4" font-size="13.4" text-anchor="middle">180</text><text class="t" x="146.9" y="216.3" font-size="13.7" text-anchor="middle">azimuth [°]</text><text class="t" x="0" y="0" font-size="13.7" text-anchor="middle" transform="translate(21.7 98.1) rotate(-90)">intensity [a.u]</text><circle cx="45.9" cy="21.5" r="1.65" fill="none" stroke="#ff00ff" stroke-width="1.1"/><text class="t s" x="55" y="25.1" font-size="10.4">1</text><circle cx="45.9" cy="33" r="1.65" fill="none" stroke="#00ff00" stroke-width="1.1"/><text class="t s" x="55" y="36.6" font-size="10.4">2</text><circle cx="45.9" cy="44.4" r="1.65" fill="none" stroke="#ff0000" stroke-width="1.1"/><text class="t s" x="55" y="48" font-size="10.4">3</text><circle cx="45.9" cy="55.8" r="1.65" fill="none" stroke="#0000ff" stroke-width="1.1"/><text class="t s" x="55" y="59.4" font-size="10.4">4</text><circle cx="45.9" cy="67.3" r="1.65" fill="none" stroke="#008000" stroke-width="1.1"/><text class="t s" x="55" y="70.9" font-size="10.4">5</text><circle cx="45.9" cy="78.8" r="1.65" fill="none" stroke="#000000" stroke-width="1.1"/><text class="t s" x="55" y="82.3" font-size="10.4">6</text><text class="t s" x="199.7" y="28.3" font-size="10.4">T=10°C</text><text class="t s" x="199.7" y="39.9" font-size="10.4">(001)</text><text class="t s" x="199.7" y="51.5" font-size="10.4">moulded</text><text class="c" x="143.2" y="241.4" font-size="13.6" letter-spacing="-0.4" text-anchor="middle">(<tspan font-weight="bold">a</tspan>)</text></g>
<g><clipPath id="clb"><rect x="297.6" y="9.6" width="235.3" height="179.6"/></clipPath><g clip-path="url(#clb)"><g fill="none" stroke="#ff00ff" stroke-width="1.1"><circle cx="297.6" cy="182.6" r="1.65"/><circle cx="302.3" cy="184.1" r="1.65"/><circle cx="307" cy="184.1" r="1.65"/><circle cx="311.7" cy="184.1" r="1.65"/><circle cx="316.4" cy="183.7" r="1.65"/><circle cx="321.1" cy="183.2" r="1.65"/><circle cx="325.8" cy="183" r="1.65"/><circle cx="330.5" cy="183" r="1.65"/><circle cx="335.2" cy="183" r="1.65"/><circle cx="340" cy="182.9" r="1.65"/><circle cx="344.7" cy="182.9" r="1.65"/><circle cx="349.4" cy="182.9" r="1.65"/><circle cx="354.1" cy="182.9" r="1.65"/><circle cx="358.8" cy="183" r="1.65"/><circle cx="363.5" cy="183.1" r="1.65"/><circle cx="368.2" cy="183.2" r="1.65"/><circle cx="372.9" cy="183.2" r="1.65"/><circle cx="377.6" cy="183.3" r="1.65"/><circle cx="382.3" cy="183.4" r="1.65"/><circle cx="387" cy="183.5" r="1.65"/><circle cx="391.7" cy="183.6" r="1.65"/><circle cx="396.4" cy="183.7" r="1.65"/><circle cx="401.1" cy="183.8" r="1.65"/><circle cx="405.8" cy="183.9" r="1.65"/><circle cx="410.5" cy="183.9" r="1.65"/><circle cx="415.2" cy="183.9" r="1.65"/><circle cx="420" cy="183.9" r="1.65"/><circle cx="424.7" cy="184" r="1.65"/><circle cx="429.4" cy="184" r="1.65"/><circle cx="434.1" cy="184" r="1.65"/><circle cx="438.8" cy="184" r="1.65"/><circle cx="443.5" cy="184" r="1.65"/><circle cx="448.2" cy="184.1" r="1.65"/><circle cx="452.9" cy="184.1" r="1.65"/><circle cx="457.6" cy="184.1" r="1.65"/><circle cx="462.3" cy="184.1" r="1.65"/><circle cx="467" cy="184.1" r="1.65"/><circle cx="471.7" cy="184.2" r="1.65"/><circle cx="476.4" cy="184.2" r="1.65"/><circle cx="481.1" cy="184.2" r="1.65"/><circle cx="485.8" cy="184.2" r="1.65"/><circle cx="490.5" cy="184.2" r="1.65"/><circle cx="495.3" cy="184.3" r="1.65"/><circle cx="500" cy="184.3" r="1.65"/></g><polyline fill="none" stroke="#ff00ff" stroke-width="1.2" stroke-linejoin="round" points="297.6,183 298.8,183.3 300,183.6 301.1,183.9 302.3,184.2 303.5,184.2 304.7,184.2 305.8,184.2 307,184.2 308.2,184.2 309.4,184.2 310.5,184.2 311.7,184.2 312.9,184.2 314.1,184 315.2,183.9 316.4,183.8 317.6,183.6 318.8,183.5 320,183.4 321.1,183.3 322.3,183.1 323.5,183.1 324.7,183.1 325.8,183.1 327,183.1 328.2,183.1 329.4,183.1 330.5,183.1 331.7,183.1 332.9,183.1 334.1,183.1 335.2,183.1 336.4,183.1 337.6,183.1 338.8,183 340,183 341.1,183 342.3,183 343.5,183 344.7,183 345.8,183 347,183 348.2,183 349.4,183 350.5,183 351.7,183 352.9,183 354.1,183 355.2,183 356.4,183 357.6,183.1 358.8,183.1 360,183.1 361.1,183.1 362.3,183.1 363.5,183.2 364.7,183.2 365.8,183.2 367,183.2 368.2,183.3 369.4,183.3 370.5,183.3 371.7,183.3 372.9,183.3 374.1,183.4 375.2,183.4 376.4,183.4 377.6,183.4 378.8,183.5 380,183.5 381.1,183.5 382.3,183.5 383.5,183.5 384.7,183.6 385.8,183.6 387,183.6 388.2,183.6 389.4,183.7 390.5,183.7 391.7,183.7 392.9,183.7 394.1,183.7 395.2,183.8 396.4,183.8 397.6,183.8 398.8,183.8 400,183.9 401.1,183.9 402.3,183.9 403.5,183.9 404.7,183.9 405.8,184 407,184 408.2,184 409.4,184 410.5,184 411.7,184 412.9,184 414.1,184 415.3,184 416.4,184 417.6,184 418.8,184 420,184 421.1,184.1 422.3,184.1 423.5,184.1 424.7,184.1 425.8,184.1 427,184.1 428.2,184.1 429.4,184.1 430.5,184.1 431.7,184.1 432.9,184.1 434.1,184.1 435.3,184.1 436.4,184.1 437.6,184.1 438.8,184.1 440,184.1 441.1,184.1 442.3,184.1 443.5,184.1 444.7,184.1 445.8,184.2 447,184.2 448.2,184.2 449.4,184.2 450.5,184.2 451.7,184.2 452.9,184.2 454.1,184.2 455.3,184.2 456.4,184.2 457.6,184.2 458.8,184.2 460,184.2 461.1,184.2 462.3,184.2 463.5,184.2 464.7,184.2 465.8,184.2 467,184.2 468.2,184.2 469.4,184.2 470.5,184.3 471.7,184.3 472.9,184.3 474.1,184.3 475.3,184.3 476.4,184.3 477.6,184.3 478.8,184.3 480,184.3 481.1,184.3 482.3,184.3 483.5,184.3 484.7,184.3 485.8,184.3 487,184.3 488.2,184.3 489.4,184.3 490.5,184.3 491.7,184.3 492.9,184.3 494.1,184.3 495.3,184.4 496.4,184.4 497.6,184.4 498.8,184.4 500,184.4"/><g fill="none" stroke="#00ff00" stroke-width="1.1"><circle cx="297.6" cy="184.7" r="1.65"/><circle cx="302.3" cy="184.7" r="1.65"/><circle cx="307" cy="184.7" r="1.65"/><circle cx="311.7" cy="184.7" r="1.65"/><circle cx="316.4" cy="184.7" r="1.65"/><circle cx="321.1" cy="184.7" r="1.65"/><circle cx="325.8" cy="184.7" r="1.65"/><circle cx="330.5" cy="184.7" r="1.65"/><circle cx="335.2" cy="184.7" r="1.65"/><circle cx="340" cy="184.7" r="1.65"/><circle cx="344.7" cy="184.7" r="1.65"/><circle cx="349.4" cy="184.7" r="1.65"/><circle cx="354.1" cy="184.7" r="1.65"/><circle cx="358.8" cy="184.7" r="1.65"/><circle cx="363.5" cy="184.7" r="1.65"/><circle cx="368.2" cy="184.7" r="1.65"/><circle cx="372.9" cy="184.7" r="1.65"/><circle cx="377.6" cy="184.7" r="1.65"/><circle cx="382.3" cy="184.7" r="1.65"/><circle cx="387" cy="184.7" r="1.65"/><circle cx="391.7" cy="184.7" r="1.65"/><circle cx="396.4" cy="184.7" r="1.65"/><circle cx="401.1" cy="184.7" r="1.65"/><circle cx="405.8" cy="184.7" r="1.65"/><circle cx="410.5" cy="184.7" r="1.65"/><circle cx="415.2" cy="184.7" r="1.65"/><circle cx="420" cy="184.7" r="1.65"/><circle cx="424.7" cy="184.7" r="1.65"/><circle cx="429.4" cy="184.7" r="1.65"/><circle cx="434.1" cy="184.7" r="1.65"/><circle cx="438.8" cy="184.7" r="1.65"/><circle cx="443.5" cy="184.7" r="1.65"/><circle cx="448.2" cy="184.7" r="1.65"/><circle cx="452.9" cy="184.7" r="1.65"/><circle cx="457.6" cy="184.7" r="1.65"/><circle cx="462.3" cy="184.7" r="1.65"/><circle cx="467" cy="184.7" r="1.65"/><circle cx="471.7" cy="184.7" r="1.65"/><circle cx="476.4" cy="184.7" r="1.65"/><circle cx="481.1" cy="184.7" r="1.65"/><circle cx="485.8" cy="184.7" r="1.65"/><circle cx="490.5" cy="184.7" r="1.65"/><circle cx="495.3" cy="184.7" r="1.65"/><circle cx="500" cy="184.7" r="1.65"/></g><polyline fill="none" stroke="#00ff00" stroke-width="1.2" stroke-linejoin="round" points="297.6,184.8 298.8,184.8 300,184.8 301.1,184.8 302.3,184.8 303.5,184.8 304.7,184.8 305.8,184.8 307,184.8 308.2,184.8 309.4,184.8 310.5,184.8 311.7,184.8 312.9,184.8 314.1,184.8 315.2,184.8 316.4,184.8 317.6,184.8 318.8,184.8 320,184.8 321.1,184.8 322.3,184.8 323.5,184.8 324.7,184.8 325.8,184.8 327,184.8 328.2,184.8 329.4,184.8 330.5,184.8 331.7,184.8 332.9,184.8 334.1,184.8 335.2,184.8 336.4,184.8 337.6,184.8 338.8,184.8 340,184.8 341.1,184.8 342.3,184.8 343.5,184.8 344.7,184.8 345.8,184.8 347,184.8 348.2,184.8 349.4,184.8 350.5,184.8 351.7,184.8 352.9,184.8 354.1,184.8 355.2,184.8 356.4,184.8 357.6,184.8 358.8,184.8 360,184.8 361.1,184.8 362.3,184.8 363.5,184.8 364.7,184.8 365.8,184.8 367,184.8 368.2,184.8 369.4,184.8 370.5,184.8 371.7,184.8 372.9,184.8 374.1,184.8 375.2,184.8 376.4,184.8 377.6,184.8 378.8,184.8 380,184.8 381.1,184.8 382.3,184.8 383.5,184.8 384.7,184.8 385.8,184.8 387,184.8 388.2,184.8 389.4,184.8 390.5,184.8 391.7,184.8 392.9,184.8 394.1,184.8 395.2,184.8 396.4,184.8 397.6,184.8 398.8,184.8 400,184.8 401.1,184.8 402.3,184.8 403.5,184.8 404.7,184.8 405.8,184.8 407,184.8 408.2,184.8 409.4,184.8 410.5,184.8 411.7,184.8 412.9,184.8 414.1,184.8 415.3,184.8 416.4,184.8 417.6,184.8 418.8,184.8 420,184.8 421.1,184.8 422.3,184.8 423.5,184.8 424.7,184.8 425.8,184.8 427,184.8 428.2,184.8 429.4,184.8 430.5,184.8 431.7,184.8 432.9,184.8 434.1,184.8 435.3,184.8 436.4,184.8 437.6,184.8 438.8,184.8 440,184.8 441.1,184.8 442.3,184.8 443.5,184.8 444.7,184.8 445.8,184.8 447,184.8 448.2,184.8 449.4,184.8 450.5,184.8 451.7,184.8 452.9,184.8 454.1,184.8 455.3,184.8 456.4,184.8 457.6,184.8 458.8,184.8 460,184.8 461.1,184.8 462.3,184.8 463.5,184.8 464.7,184.8 465.8,184.8 467,184.8 468.2,184.8 469.4,184.8 470.5,184.8 471.7,184.8 472.9,184.8 474.1,184.8 475.3,184.8 476.4,184.8 477.6,184.8 478.8,184.8 480,184.8 481.1,184.8 482.3,184.8 483.5,184.8 484.7,184.8 485.8,184.8 487,184.8 488.2,184.8 489.4,184.8 490.5,184.8 491.7,184.8 492.9,184.8 494.1,184.8 495.3,184.8 496.4,184.8 497.6,184.8 498.8,184.8 500,184.8"/><g fill="none" stroke="#ff0000" stroke-width="1.1"><circle cx="297.6" cy="185.1" r="1.65"/><circle cx="302.3" cy="185.1" r="1.65"/><circle cx="307" cy="185.1" r="1.65"/><circle cx="311.7" cy="185.1" r="1.65"/><circle cx="316.4" cy="185.1" r="1.65"/><circle cx="321.1" cy="185.1" r="1.65"/><circle cx="325.8" cy="185.1" r="1.65"/><circle cx="330.5" cy="185.1" r="1.65"/><circle cx="335.2" cy="185.1" r="1.65"/><circle cx="340" cy="185.1" r="1.65"/><circle cx="344.7" cy="185.1" r="1.65"/><circle cx="349.4" cy="185.1" r="1.65"/><circle cx="354.1" cy="185.1" r="1.65"/><circle cx="358.8" cy="185.1" r="1.65"/><circle cx="363.5" cy="185.1" r="1.65"/><circle cx="368.2" cy="185.1" r="1.65"/><circle cx="372.9" cy="185.1" r="1.65"/><circle cx="377.6" cy="184.9" r="1.65"/><circle cx="382.3" cy="184.6" r="1.65"/><circle cx="387" cy="184.3" r="1.65"/><circle cx="391.7" cy="184.3" r="1.65"/><circle cx="396.4" cy="184.2" r="1.65"/><circle cx="401.1" cy="184.2" r="1.65"/><circle cx="405.8" cy="184.2" r="1.65"/><circle cx="410.5" cy="184.1" r="1.65"/><circle cx="415.2" cy="184.1" r="1.65"/><circle cx="420" cy="184.1" r="1.65"/><circle cx="424.7" cy="184" r="1.65"/><circle cx="429.4" cy="184" r="1.65"/><circle cx="434.1" cy="184" r="1.65"/><circle cx="438.8" cy="184" r="1.65"/><circle cx="443.5" cy="184" r="1.65"/><circle cx="448.2" cy="184" r="1.65"/><circle cx="452.9" cy="184" r="1.65"/><circle cx="457.6" cy="183.9" r="1.65"/><circle cx="462.3" cy="183.9" r="1.65"/><circle cx="467" cy="183.9" r="1.65"/><circle cx="471.7" cy="183.9" r="1.65"/><circle cx="476.4" cy="183.9" r="1.65"/><circle cx="481.1" cy="183.9" r="1.65"/><circle cx="485.8" cy="183.9" r="1.65"/><circle cx="490.5" cy="183.9" r="1.65"/><circle cx="495.3" cy="183.9" r="1.65"/><circle cx="500" cy="183.9" r="1.65"/><circle cx="504.7" cy="183.9" r="1.65"/></g><polyline fill="none" stroke="#ff0000" stroke-width="1.2" stroke-linejoin="round" points="297.6,185.3 298.8,185.3 300,185.3 301.1,185.3 302.3,185.3 303.5,185.3 304.7,185.3 305.8,185.3 307,185.3 308.2,185.3 309.4,185.3 310.5,185.3 311.7,185.3 312.9,185.3 314.1,185.3 315.2,185.3 316.4,185.3 317.6,185.3 318.8,185.3 320,185.3 321.1,185.3 322.3,185.3 323.5,185.3 324.7,185.3 325.8,185.3 327,185.3 328.2,185.3 329.4,185.3 330.5,185.3 331.7,185.3 332.9,185.3 334.1,185.3 335.2,185.3 336.4,185.3 337.6,185.3 338.8,185.3 340,185.3 341.1,185.3 342.3,185.3 343.5,185.3 344.7,185.3 345.8,185.3 347,185.3 348.2,185.3 349.4,185.3 350.5,185.3 351.7,185.3 352.9,185.3 354.1,185.3 355.2,185.3 356.4,185.3 357.6,185.3 358.8,185.3 360,185.3 361.1,185.3 362.3,185.3 363.5,185.3 364.7,185.3 365.8,185.3 367,185.3 368.2,185.3 369.4,185.3 370.5,185.3 371.7,185.3 372.9,185.3 374.1,185.3 375.2,185.3 376.4,185.2 377.6,185.1 378.8,185 380,185 381.1,184.9 382.3,184.8 383.5,184.7 384.7,184.6 385.8,184.5 387,184.5 388.2,184.5 389.4,184.5 390.5,184.5 391.7,184.5 392.9,184.4 394.1,184.4 395.2,184.4 396.4,184.4 397.6,184.4 398.8,184.4 400,184.4 401.1,184.4 402.3,184.4 403.5,184.4 404.7,184.4 405.8,184.4 407,184.3 408.2,184.3 409.4,184.3 410.5,184.3 411.7,184.3 412.9,184.3 414.1,184.3 415.3,184.3 416.4,184.3 417.6,184.3 418.8,184.3 420,184.3 421.1,184.2 422.3,184.2 423.5,184.2 424.7,184.2 425.8,184.2 427,184.2 428.2,184.2 429.4,184.2 430.5,184.2 431.7,184.2 432.9,184.2 434.1,184.2 435.3,184.2 436.4,184.2 437.6,184.2 438.8,184.2 440,184.2 441.1,184.2 442.3,184.2 443.5,184.2 444.7,184.2 445.8,184.2 447,184.2 448.2,184.2 449.4,184.2 450.5,184.2 451.7,184.2 452.9,184.2 454.1,184.1 455.3,184.1 456.4,184.1 457.6,184.1 458.8,184.1 460,184.1 461.1,184.1 462.3,184.1 463.5,184.1 464.7,184.1 465.8,184.1 467,184.1 468.2,184.1 469.4,184.1 470.5,184.1 471.7,184.1 472.9,184.1 474.1,184.1 475.3,184.1 476.4,184.1 477.6,184.1 478.8,184.1 480,184.1 481.1,184.1 482.3,184.1 483.5,184.1 484.7,184.1 485.8,184.1 487,184.1 488.2,184.1 489.4,184.1 490.5,184.1 491.7,184.1 492.9,184.1 494.1,184.1 495.3,184.1 496.4,184.1 497.6,184.1 498.8,184.1 500,184.1 501.1,184.1 502.3,184.1 503.5,184.1 504.7,184.1"/><g fill="none" stroke="#0000ff" stroke-width="1.1"><circle cx="297.6" cy="184.9" r="1.65"/><circle cx="302.3" cy="184.9" r="1.65"/><circle cx="307" cy="184.8" r="1.65"/><circle cx="311.7" cy="184.8" r="1.65"/><circle cx="316.4" cy="184.7" r="1.65"/><circle cx="321.1" cy="184.7" r="1.65"/><circle cx="325.8" cy="184.6" r="1.65"/><circle cx="330.5" cy="184.5" r="1.65"/><circle cx="335.2" cy="184.5" r="1.65"/><circle cx="340" cy="184.4" r="1.65"/><circle cx="344.7" cy="184.2" r="1.65"/><circle cx="349.4" cy="184.1" r="1.65"/><circle cx="354.1" cy="183.9" r="1.65"/><circle cx="358.8" cy="183.7" r="1.65"/><circle cx="363.5" cy="183.4" r="1.65"/><circle cx="368.2" cy="183" r="1.65"/><circle cx="372.9" cy="182.4" r="1.65"/><circle cx="377.6" cy="181.7" r="1.65"/><circle cx="382.3" cy="180.8" r="1.65"/><circle cx="387" cy="179.6" r="1.65"/><circle cx="391.7" cy="178.1" r="1.65"/><circle cx="396.4" cy="176.3" r="1.65"/><circle cx="401.1" cy="174.3" r="1.65"/><circle cx="405.8" cy="172" r="1.65"/><circle cx="410.5" cy="169.7" r="1.65"/><circle cx="415.2" cy="167.5" r="1.65"/><circle cx="420" cy="165.7" r="1.65"/><circle cx="424.7" cy="164.7" r="1.65"/><circle cx="429.4" cy="164.8" r="1.65"/><circle cx="434.1" cy="165.9" r="1.65"/><circle cx="438.8" cy="167.8" r="1.65"/><circle cx="443.5" cy="170.1" r="1.65"/><circle cx="448.2" cy="172.4" r="1.65"/><circle cx="452.9" cy="174.5" r="1.65"/><circle cx="457.6" cy="176.4" r="1.65"/><circle cx="462.3" cy="177.9" r="1.65"/><circle cx="467" cy="179.2" r="1.65"/><circle cx="471.7" cy="180.2" r="1.65"/><circle cx="476.4" cy="181" r="1.65"/><circle cx="481.1" cy="181.7" r="1.65"/><circle cx="485.8" cy="182.2" r="1.65"/><circle cx="490.5" cy="182.6" r="1.65"/><circle cx="495.3" cy="183" r="1.65"/><circle cx="500" cy="183.3" r="1.65"/></g><polyline fill="none" stroke="#0000ff" stroke-width="1.2" stroke-linejoin="round" points="297.6,185.5 298.8,185.5 300,185.5 301.1,185.5 302.3,185.5 303.5,185.4 304.7,185.4 305.8,185.4 307,185.4 308.2,185.4 309.4,185.4 310.5,185.4 311.7,185.4 312.9,185.4 314.1,185.3 315.2,185.3 316.4,185.3 317.6,185.3 318.8,185.3 320,185.3 321.1,185.3 322.3,185.2 323.5,185.2 324.7,185.2 325.8,185.2 327,185.2 328.2,185.2 329.4,185.1 330.5,185.1 331.7,185.1 332.9,185.1 334.1,185.1 335.2,185 336.4,185 337.6,185 338.8,185 340,184.9 341.1,184.9 342.3,184.9 343.5,184.8 344.7,184.8 345.8,184.8 347,184.7 348.2,184.7 349.4,184.7 350.5,184.6 351.7,184.6 352.9,184.5 354.1,184.5 355.2,184.4 356.4,184.4 357.6,184.3 358.8,184.3 360,184.2 361.1,184.1 362.3,184 363.5,184 364.7,183.9 365.8,183.8 367,183.7 368.2,183.6 369.4,183.4 370.5,183.3 371.7,183.2 372.9,183 374.1,182.8 375.2,182.7 376.4,182.5 377.6,182.3 378.8,182.1 380,181.8 381.1,181.6 382.3,181.3 383.5,181 384.7,180.7 385.8,180.4 387,180 388.2,179.7 389.4,179.3 390.5,178.8 391.7,178.4 392.9,177.9 394.1,177.4 395.2,176.9 396.4,176.4 397.6,175.8 398.8,175.3 400,174.6 401.1,174 402.3,173.4 403.5,172.7 404.7,172 405.8,171.4 407,170.7 408.2,170 409.4,169.3 410.5,168.6 411.7,167.9 412.9,167.2 414.1,166.5 415.3,165.9 416.4,165.3 417.6,164.7 418.8,164.2 420,163.7 421.1,163.3 422.3,162.9 423.5,162.6 424.7,162.5 425.8,162.3 427,162.3 428.2,162.4 429.4,162.5 430.5,162.8 431.7,163.1 432.9,163.5 434.1,164 435.3,164.5 436.4,165.1 437.6,165.7 438.8,166.4 440,167.1 441.1,167.8 442.3,168.5 443.5,169.2 444.7,169.9 445.8,170.6 447,171.3 448.2,171.9 449.4,172.6 450.5,173.2 451.7,173.8 452.9,174.4 454.1,174.9 455.3,175.5 456.4,176 457.6,176.5 458.8,176.9 460,177.4 461.1,177.8 462.3,178.2 463.5,178.6 464.7,178.9 465.8,179.2 467,179.6 468.2,179.9 469.4,180.1 470.5,180.4 471.7,180.7 472.9,180.9 474.1,181.1 475.3,181.3 476.4,181.5 477.6,181.7 478.8,181.9 480,182 481.1,182.2 482.3,182.3 483.5,182.5 484.7,182.6 485.8,182.7 487,182.9 488.2,183 489.4,183.1 490.5,183.2 491.7,183.3 492.9,183.3 494.1,183.4 495.3,183.5 496.4,183.6 497.6,183.7 498.8,183.7 500,183.8"/><g fill="none" stroke="#008000" stroke-width="1.1"><circle cx="297.6" cy="185.1" r="1.65"/><circle cx="302.3" cy="185" r="1.65"/><circle cx="307" cy="185" r="1.65"/><circle cx="311.7" cy="184.9" r="1.65"/><circle cx="316.4" cy="184.8" r="1.65"/><circle cx="321.1" cy="184.8" r="1.65"/><circle cx="325.8" cy="184.7" r="1.65"/><circle cx="330.5" cy="184.6" r="1.65"/><circle cx="335.2" cy="184.5" r="1.65"/><circle cx="340" cy="184.3" r="1.65"/><circle cx="344.7" cy="184.1" r="1.65"/><circle cx="349.4" cy="183.9" r="1.65"/><circle cx="354.1" cy="183.6" r="1.65"/><circle cx="358.8" cy="183.1" r="1.65"/><circle cx="363.5" cy="182.4" r="1.65"/><circle cx="368.2" cy="181.5" r="1.65"/><circle cx="372.9" cy="180.2" r="1.65"/><circle cx="377.6" cy="178.4" r="1.65"/><circle cx="382.3" cy="176" r="1.65"/><circle cx="387" cy="172.9" r="1.65"/><circle cx="391.7" cy="169.1" r="1.65"/><circle cx="396.4" cy="164.7" r="1.65"/><circle cx="401.1" cy="159.9" r="1.65"/><circle cx="405.8" cy="154.9" r="1.65"/><circle cx="410.5" cy="150.2" r="1.65"/><circle cx="415.2" cy="146.3" r="1.65"/><circle cx="420" cy="144" r="1.65"/><circle cx="424.7" cy="143.7" r="1.65"/><circle cx="429.4" cy="145.5" r="1.65"/><circle cx="434.1" cy="149.1" r="1.65"/><circle cx="438.8" cy="153.6" r="1.65"/><circle cx="443.5" cy="158.5" r="1.65"/><circle cx="448.2" cy="163.4" r="1.65"/><circle cx="452.9" cy="167.8" r="1.65"/><circle cx="457.6" cy="171.6" r="1.65"/><circle cx="462.3" cy="174.7" r="1.65"/><circle cx="467" cy="177.2" r="1.65"/><circle cx="471.7" cy="179.2" r="1.65"/><circle cx="476.4" cy="180.6" r="1.65"/><circle cx="481.1" cy="181.6" r="1.65"/><circle cx="485.8" cy="182.4" r="1.65"/><circle cx="490.5" cy="182.9" r="1.65"/><circle cx="495.3" cy="183.3" r="1.65"/><circle cx="500" cy="183.6" r="1.65"/></g><polyline fill="none" stroke="#008000" stroke-width="1.2" stroke-linejoin="round" points="297.6,185.4 298.8,185.4 300,185.3 301.1,185.3 302.3,185.3 303.5,185.3 304.7,185.3 305.8,185.3 307,185.3 308.2,185.3 309.4,185.2 310.5,185.2 311.7,185.2 312.9,185.2 314.1,185.2 315.2,185.2 316.4,185.1 317.6,185.1 318.8,185.1 320,185.1 321.1,185.1 322.3,185 323.5,185 324.7,185 325.8,185 327,185 328.2,184.9 329.4,184.9 330.5,184.9 331.7,184.9 332.9,184.8 334.1,184.8 335.2,184.8 336.4,184.7 337.6,184.7 338.8,184.7 340,184.6 341.1,184.6 342.3,184.5 343.5,184.5 344.7,184.5 345.8,184.4 347,184.4 348.2,184.3 349.4,184.2 350.5,184.2 351.7,184.1 352.9,184 354.1,183.9 355.2,183.9 356.4,183.8 357.6,183.7 358.8,183.5 360,183.4 361.1,183.3 362.3,183.1 363.5,183 364.7,182.8 365.8,182.6 367,182.4 368.2,182.1 369.4,181.9 370.5,181.6 371.7,181.3 372.9,180.9 374.1,180.6 375.2,180.1 376.4,179.7 377.6,179.2 378.8,178.7 380,178.1 381.1,177.5 382.3,176.9 383.5,176.2 384.7,175.4 385.8,174.7 387,173.8 388.2,172.9 389.4,172 390.5,171 391.7,169.9 392.9,168.8 394.1,167.7 395.2,166.5 396.4,165.2 397.6,163.9 398.8,162.6 400,161.3 401.1,159.9 402.3,158.5 403.5,157.1 404.7,155.7 405.8,154.2 407,152.8 408.2,151.4 409.4,150.1 410.5,148.7 411.7,147.4 412.9,146.2 414.1,145.1 415.3,144 416.4,143.1 417.6,142.3 418.8,141.5 420,141 421.1,140.5 422.3,140.2 423.5,140.1 424.7,140.1 425.8,140.3 427,140.7 428.2,141.2 429.4,141.8 430.5,142.6 431.7,143.5 432.9,144.5 434.1,145.6 435.3,146.8 436.4,148 437.6,149.3 438.8,150.7 440,152 441.1,153.4 442.3,154.8 443.5,156.2 444.7,157.6 445.8,159 447,160.4 448.2,161.7 449.4,163 450.5,164.3 451.7,165.5 452.9,166.7 454.1,167.8 455.3,168.9 456.4,170 457.6,171 458.8,171.9 460,172.8 461.1,173.6 462.3,174.4 463.5,175.2 464.7,175.9 465.8,176.6 467,177.2 468.2,177.7 469.4,178.3 470.5,178.8 471.7,179.2 472.9,179.6 474.1,180 475.3,180.4 476.4,180.7 477.6,181 478.8,181.3 480,181.6 481.1,181.8 482.3,182 483.5,182.2 484.7,182.4 485.8,182.6 487,182.7 488.2,182.9 489.4,183 490.5,183.1 491.7,183.3 492.9,183.4 494.1,183.5 495.3,183.5 496.4,183.6 497.6,183.7 498.8,183.8 500,183.9"/><g fill="none" stroke="#000000" stroke-width="1.1"><circle cx="297.6" cy="183.6" r="1.65"/><circle cx="302.3" cy="184" r="1.65"/><circle cx="307" cy="184" r="1.65"/><circle cx="311.7" cy="184" r="1.65"/><circle cx="316.4" cy="183.2" r="1.65"/><circle cx="321.1" cy="182.4" r="1.65"/><circle cx="325.8" cy="181.3" r="1.65"/><circle cx="330.5" cy="180.4" r="1.65"/><circle cx="335.2" cy="179.6" r="1.65"/><circle cx="340" cy="179.1" r="1.65"/><circle cx="344.7" cy="179.1" r="1.65"/><circle cx="349.4" cy="179.1" r="1.65"/><circle cx="354.1" cy="179.1" r="1.65"/><circle cx="358.8" cy="179.6" r="1.65"/><circle cx="363.5" cy="179.1" r="1.65"/><circle cx="368.2" cy="177.3" r="1.65"/><circle cx="372.9" cy="172.6" r="1.65"/><circle cx="377.6" cy="167.4" r="1.65"/><circle cx="382.3" cy="161.9" r="1.65"/><circle cx="387" cy="154" r="1.65"/><circle cx="391.7" cy="144.5" r="1.65"/><circle cx="396.4" cy="134.8" r="1.65"/><circle cx="401.1" cy="126.6" r="1.65"/><circle cx="405.8" cy="118.4" r="1.65"/><circle cx="410.5" cy="113.2" r="1.65"/><circle cx="415.2" cy="111.3" r="1.65"/><circle cx="420" cy="114.6" r="1.65"/><circle cx="424.7" cy="120.3" r="1.65"/><circle cx="429.4" cy="128.3" r="1.65"/><circle cx="434.1" cy="137.5" r="1.65"/><circle cx="438.8" cy="147.4" r="1.65"/><circle cx="443.5" cy="156.8" r="1.65"/><circle cx="448.2" cy="163.3" r="1.65"/><circle cx="452.9" cy="169.5" r="1.65"/><circle cx="457.6" cy="174.1" r="1.65"/><circle cx="462.3" cy="177.2" r="1.65"/><circle cx="467" cy="179.6" r="1.65"/><circle cx="471.7" cy="181.3" r="1.65"/><circle cx="476.4" cy="182.3" r="1.65"/><circle cx="481.1" cy="183.3" r="1.65"/><circle cx="485.8" cy="183.6" r="1.65"/><circle cx="490.5" cy="183.6" r="1.65"/><circle cx="495.3" cy="183.6" r="1.65"/><circle cx="500" cy="183.6" r="1.65"/></g><polyline fill="none" stroke="#000000" stroke-width="1.2" stroke-linejoin="round" points="297.6,185.7 298.8,185.7 300,185.7 301.1,185.7 302.3,185.7 303.5,185.7 304.7,185.7 305.8,185.7 307,185.6 308.2,185.6 309.4,185.6 310.5,185.6 311.7,185.6 312.9,185.6 314.1,185.6 315.2,185.6 316.4,185.6 317.6,185.6 318.8,185.6 320,185.5 321.1,185.5 322.3,185.5 323.5,185.5 324.7,185.5 325.8,185.5 327,185.5 328.2,185.5 329.4,185.4 330.5,185.4 331.7,185.4 332.9,185.4 334.1,185.4 335.2,185.3 336.4,185.3 337.6,185.3 338.8,185.3 340,185.2 341.1,185.2 342.3,185.2 343.5,185.1 344.7,185.1 345.8,185 347,185 348.2,184.9 349.4,184.8 350.5,184.7 351.7,184.6 352.9,184.5 354.1,184.4 355.2,184.2 356.4,184 357.6,183.8 358.8,183.6 360,183.3 361.1,183 362.3,182.6 363.5,182.2 364.7,181.7 365.8,181.2 367,180.6 368.2,180 369.4,179.2 370.5,178.4 371.7,177.5 372.9,176.5 374.1,175.4 375.2,174.2 376.4,172.9 377.6,171.4 378.8,169.9 380,168.2 381.1,166.3 382.3,164.4 383.5,162.3 384.7,160.2 385.8,157.8 387,155.4 388.2,152.9 389.4,150.3 390.5,147.6 391.7,144.8 392.9,141.9 394.1,139 395.2,136.1 396.4,133.2 397.6,130.3 398.8,127.5 400,124.7 401.1,121.9 402.3,119.3 403.5,116.9 404.7,114.6 405.8,112.5 407,110.6 408.2,108.9 409.4,107.5 410.5,106.3 411.7,105.5 412.9,104.9 414.1,104.6 415.3,104.7 416.4,105.1 417.6,105.9 418.8,107 420,108.4 421.1,110.1 422.3,112.1 423.5,114.3 424.7,116.7 425.8,119.3 427,122 428.2,124.8 429.4,127.7 430.5,130.6 431.7,133.6 432.9,136.5 434.1,139.5 435.3,142.3 436.4,145.1 437.6,147.9 438.8,150.5 440,153 441.1,155.5 442.3,157.8 443.5,160 444.7,162 445.8,164 447,165.8 448.2,167.5 449.4,169.1 450.5,170.5 451.7,171.8 452.9,173.1 454.1,174.2 455.3,175.2 456.4,176.1 457.6,177 458.8,177.7 460,178.4 461.1,179 462.3,179.6 463.5,180.1 464.7,180.5 465.8,180.9 467,181.3 468.2,181.6 469.4,181.9 470.5,182.1 471.7,182.3 472.9,182.5 474.1,182.7 475.3,182.9 476.4,183 477.6,183.2 478.8,183.3 480,183.4 481.1,183.5 482.3,183.6 483.5,183.7 484.7,183.8 485.8,183.8 487,183.9 488.2,184 489.4,184 490.5,184.1 491.7,184.2 492.9,184.2 494.1,184.3 495.3,184.3 496.4,184.4 497.6,184.4 498.8,184.4 500,184.5"/></g><rect x="297.6" y="9.6" width="235.3" height="176.6" fill="none" stroke="#1a1a1a" stroke-width="1.3"/><path d="M297.6 9.6v2.6M297.6 186.2v-2.6M356.4 9.6v2.6M356.4 186.2v-2.6M415.2 9.6v2.6M415.2 186.2v-2.6M474.1 9.6v2.6M474.1 186.2v-2.6M532.9 9.6v2.6M532.9 186.2v-2.6" stroke="#1a1a1a" stroke-width="1"/><text class="t" x="297.6" y="201.4" font-size="13.4" text-anchor="middle">90</text><text class="t" x="356.4" y="201.4" font-size="13.4" text-anchor="middle">135</text><text class="t" x="415.2" y="201.4" font-size="13.4" text-anchor="middle">180</text><text class="t" x="474.1" y="201.4" font-size="13.4" text-anchor="middle">225</text><text class="t" x="532.9" y="201.4" font-size="13.4" text-anchor="middle">270</text><text class="t" x="415.2" y="216.3" font-size="13.7" text-anchor="middle">azimuth [°]</text><text class="t" x="0" y="0" font-size="13.7" text-anchor="middle" transform="translate(289.9 98.1) rotate(-90)">intensity [a.u]</text><circle cx="314.1" cy="21.5" r="1.65" fill="none" stroke="#ff00ff" stroke-width="1.1"/><text class="t s" x="323.2" y="25.1" font-size="10.4">1</text><circle cx="314.1" cy="33" r="1.65" fill="none" stroke="#00ff00" stroke-width="1.1"/><text class="t s" x="323.2" y="36.6" font-size="10.4">2</text><circle cx="314.1" cy="44.4" r="1.65" fill="none" stroke="#ff0000" stroke-width="1.1"/><text class="t s" x="323.2" y="48" font-size="10.4">3</text><circle cx="314.1" cy="55.8" r="1.65" fill="none" stroke="#0000ff" stroke-width="1.1"/><text class="t s" x="323.2" y="59.4" font-size="10.4">4</text><circle cx="314.1" cy="67.3" r="1.65" fill="none" stroke="#008000" stroke-width="1.1"/><text class="t s" x="323.2" y="70.9" font-size="10.4">5</text><circle cx="314.1" cy="78.8" r="1.65" fill="none" stroke="#000000" stroke-width="1.1"/><text class="t s" x="323.2" y="82.3" font-size="10.4">6</text><text class="t s" x="474.6" y="28.3" font-size="10.4">T=10°C</text><text class="t s" x="474.6" y="39.9" font-size="10.4">(020)</text><text class="t s" x="474.6" y="51.5" font-size="10.4">moulded</text><text class="c" x="411.6" y="241.4" font-size="13.6" letter-spacing="-0.4" text-anchor="middle">(<tspan font-weight="bold">b</tspan>)</text></g>
<g><clipPath id="clc"><rect x="29.4" y="249" width="235.1" height="179.6"/></clipPath><g clip-path="url(#clc)"><g fill="none" stroke="#ff00ff" stroke-width="1.1"><circle cx="29.4" cy="424.6" r="1.65"/><circle cx="34.1" cy="424.6" r="1.65"/><circle cx="38.8" cy="424.6" r="1.65"/><circle cx="43.5" cy="424.5" r="1.65"/><circle cx="48.2" cy="424.5" r="1.65"/><circle cx="52.9" cy="424.5" r="1.65"/><circle cx="57.6" cy="424.5" r="1.65"/><circle cx="62.3" cy="424.5" r="1.65"/><circle cx="67" cy="424.4" r="1.65"/><circle cx="71.7" cy="424.4" r="1.65"/><circle cx="76.4" cy="424.4" r="1.65"/><circle cx="81.1" cy="424.4" r="1.65"/><circle cx="85.8" cy="424.4" r="1.65"/><circle cx="90.5" cy="424.3" r="1.65"/><circle cx="95.2" cy="424.3" r="1.65"/><circle cx="99.9" cy="424.3" r="1.65"/><circle cx="104.6" cy="424.3" r="1.65"/><circle cx="109.3" cy="424.3" r="1.65"/><circle cx="114" cy="424.2" r="1.65"/><circle cx="118.7" cy="424.2" r="1.65"/><circle cx="123.4" cy="424.2" r="1.65"/><circle cx="128.1" cy="424.2" r="1.65"/><circle cx="132.8" cy="424.2" r="1.65"/><circle cx="137.5" cy="424.1" r="1.65"/><circle cx="142.2" cy="424.1" r="1.65"/><circle cx="146.9" cy="424.1" r="1.65"/><circle cx="151.7" cy="424.1" r="1.65"/><circle cx="156.4" cy="424.2" r="1.65"/><circle cx="161.1" cy="424.2" r="1.65"/><circle cx="165.8" cy="424.2" r="1.65"/><circle cx="170.5" cy="424.2" r="1.65"/><circle cx="175.2" cy="424.2" r="1.65"/><circle cx="179.9" cy="424.3" r="1.65"/><circle cx="184.6" cy="424.3" r="1.65"/><circle cx="189.3" cy="424.3" r="1.65"/><circle cx="194" cy="424.3" r="1.65"/><circle cx="198.7" cy="424.4" r="1.65"/><circle cx="203.4" cy="424.4" r="1.65"/><circle cx="208.1" cy="424.4" r="1.65"/><circle cx="212.8" cy="424.4" r="1.65"/><circle cx="217.5" cy="424.5" r="1.65"/><circle cx="222.2" cy="424.5" r="1.65"/><circle cx="226.9" cy="424.5" r="1.65"/><circle cx="231.6" cy="424.5" r="1.65"/><circle cx="236.3" cy="424.6" r="1.65"/><circle cx="241" cy="424.6" r="1.65"/><circle cx="245.7" cy="424.6" r="1.65"/><circle cx="250.4" cy="424.6" r="1.65"/><circle cx="255.1" cy="424.7" r="1.65"/><circle cx="259.8" cy="424.7" r="1.65"/><circle cx="264.5" cy="424.7" r="1.65"/></g><polyline fill="none" stroke="#ff00ff" stroke-width="1.2" stroke-linejoin="round" points="29.4,424.7 30.6,424.7 31.8,424.7 32.9,424.7 34.1,424.7 35.3,424.7 36.5,424.7 37.6,424.7 38.8,424.7 40,424.7 41.2,424.6 42.3,424.6 43.5,424.6 44.7,424.6 45.9,424.6 47,424.6 48.2,424.6 49.4,424.6 50.6,424.6 51.7,424.6 52.9,424.6 54.1,424.6 55.3,424.6 56.4,424.6 57.6,424.6 58.8,424.6 60,424.6 61.1,424.6 62.3,424.6 63.5,424.6 64.7,424.5 65.8,424.5 67,424.5 68.2,424.5 69.4,424.5 70.5,424.5 71.7,424.5 72.9,424.5 74.1,424.5 75.2,424.5 76.4,424.5 77.6,424.5 78.8,424.5 79.9,424.5 81.1,424.5 82.3,424.5 83.5,424.5 84.6,424.5 85.8,424.5 87,424.5 88.2,424.4 89.4,424.4 90.5,424.4 91.7,424.4 92.9,424.4 94.1,424.4 95.2,424.4 96.4,424.4 97.6,424.4 98.8,424.4 99.9,424.4 101.1,424.4 102.3,424.4 103.5,424.4 104.6,424.4 105.8,424.4 107,424.4 108.2,424.4 109.3,424.4 110.5,424.4 111.7,424.3 112.9,424.3 114,424.3 115.2,424.3 116.4,424.3 117.6,424.3 118.7,424.3 119.9,424.3 121.1,424.3 122.3,424.3 123.4,424.3 124.6,424.3 125.8,424.3 127,424.3 128.1,424.3 129.3,424.3 130.5,424.3 131.7,424.3 132.8,424.3 134,424.3 135.2,424.2 136.4,424.2 137.5,424.2 138.7,424.2 139.9,424.2 141.1,424.2 142.2,424.2 143.4,424.2 144.6,424.2 145.8,424.2 147,424.2 148.1,424.2 149.3,424.2 150.5,424.2 151.7,424.2 152.8,424.2 154,424.2 155.2,424.2 156.4,424.3 157.5,424.3 158.7,424.3 159.9,424.3 161.1,424.3 162.2,424.3 163.4,424.3 164.6,424.3 165.8,424.3 166.9,424.3 168.1,424.3 169.3,424.3 170.5,424.3 171.6,424.3 172.8,424.3 174,424.3 175.2,424.3 176.3,424.4 177.5,424.4 178.7,424.4 179.9,424.4 181,424.4 182.2,424.4 183.4,424.4 184.6,424.4 185.7,424.4 186.9,424.4 188.1,424.4 189.3,424.4 190.4,424.4 191.6,424.4 192.8,424.4 194,424.4 195.1,424.4 196.3,424.5 197.5,424.5 198.7,424.5 199.8,424.5 201,424.5 202.2,424.5 203.4,424.5 204.5,424.5 205.7,424.5 206.9,424.5 208.1,424.5 209.3,424.5 210.4,424.5 211.6,424.5 212.8,424.5 214,424.5 215.1,424.5 216.3,424.6 217.5,424.6 218.7,424.6 219.8,424.6 221,424.6 222.2,424.6 223.4,424.6 224.5,424.6 225.7,424.6 226.9,424.6 228.1,424.6 229.2,424.6 230.4,424.6 231.6,424.6 232.8,424.6 233.9,424.6 235.1,424.7 236.3,424.7 237.5,424.7 238.6,424.7 239.8,424.7 241,424.7 242.2,424.7 243.3,424.7 244.5,424.7 245.7,424.7 246.9,424.7 248,424.7 249.2,424.7 250.4,424.7 251.6,424.7 252.7,424.7 253.9,424.7 255.1,424.8 256.3,424.8 257.4,424.8 258.6,424.8 259.8,424.8 261,424.8 262.1,424.8 263.3,424.8 264.5,424.8"/><g fill="none" stroke="#00ff00" stroke-width="1.1"><circle cx="29.4" cy="424.3" r="1.65"/><circle cx="34.1" cy="424.3" r="1.65"/><circle cx="38.8" cy="424.2" r="1.65"/><circle cx="43.5" cy="424.2" r="1.65"/><circle cx="48.2" cy="424.2" r="1.65"/><circle cx="52.9" cy="424.1" r="1.65"/><circle cx="57.6" cy="424.1" r="1.65"/><circle cx="62.3" cy="424" r="1.65"/><circle cx="67" cy="424" r="1.65"/><circle cx="71.7" cy="423.9" r="1.65"/><circle cx="76.4" cy="423.9" r="1.65"/><circle cx="81.1" cy="423.8" r="1.65"/><circle cx="85.8" cy="423.7" r="1.65"/><circle cx="90.5" cy="423.6" r="1.65"/><circle cx="95.2" cy="423.6" r="1.65"/><circle cx="99.9" cy="423.5" r="1.65"/><circle cx="104.6" cy="423.4" r="1.65"/><circle cx="109.3" cy="423.3" r="1.65"/><circle cx="114" cy="423.2" r="1.65"/><circle cx="118.7" cy="423.2" r="1.65"/><circle cx="123.4" cy="423.1" r="1.65"/><circle cx="128.1" cy="423" r="1.65"/><circle cx="132.8" cy="423" r="1.65"/><circle cx="137.5" cy="422.9" r="1.65"/><circle cx="142.2" cy="422.9" r="1.65"/><circle cx="146.9" cy="422.9" r="1.65"/><circle cx="151.7" cy="422.9" r="1.65"/><circle cx="156.4" cy="422.9" r="1.65"/><circle cx="161.1" cy="423" r="1.65"/><circle cx="165.8" cy="423" r="1.65"/><circle cx="170.5" cy="423.1" r="1.65"/><circle cx="175.2" cy="423.2" r="1.65"/><circle cx="179.9" cy="423.2" r="1.65"/><circle cx="184.6" cy="423.3" r="1.65"/><circle cx="189.3" cy="423.4" r="1.65"/><circle cx="194" cy="423.5" r="1.65"/><circle cx="198.7" cy="423.6" r="1.65"/><circle cx="203.4" cy="423.6" r="1.65"/><circle cx="208.1" cy="423.7" r="1.65"/><circle cx="212.8" cy="423.8" r="1.65"/><circle cx="217.5" cy="423.9" r="1.65"/><circle cx="222.2" cy="423.9" r="1.65"/><circle cx="226.9" cy="424" r="1.65"/><circle cx="231.6" cy="424" r="1.65"/><circle cx="236.3" cy="424.1" r="1.65"/><circle cx="241" cy="424.1" r="1.65"/><circle cx="245.7" cy="424.2" r="1.65"/><circle cx="250.4" cy="424.2" r="1.65"/><circle cx="255.1" cy="424.2" r="1.65"/><circle cx="259.8" cy="424.3" r="1.65"/><circle cx="264.5" cy="424.3" r="1.65"/></g><polyline fill="none" stroke="#00ff00" stroke-width="1.2" stroke-linejoin="round" points="29.4,424.3 30.6,424.3 31.8,424.3 32.9,424.3 34.1,424.3 35.3,424.3 36.5,424.3 37.6,424.3 38.8,424.2 40,424.2 41.2,424.2 42.3,424.2 43.5,424.2 44.7,424.2 45.9,424.2 47,424.2 48.2,424.2 49.4,424.2 50.6,424.2 51.7,424.2 52.9,424.2 54.1,424.1 55.3,424.1 56.4,424.1 57.6,424.1 58.8,424.1 60,424.1 61.1,424.1 62.3,424.1 63.5,424.1 64.7,424 65.8,424 67,424 68.2,424 69.4,424 70.5,424 71.7,424 72.9,423.9 74.1,423.9 75.2,423.9 76.4,423.9 77.6,423.9 78.8,423.9 79.9,423.9 81.1,423.8 82.3,423.8 83.5,423.8 84.6,423.8 85.8,423.8 87,423.8 88.2,423.7 89.4,423.7 90.5,423.7 91.7,423.7 92.9,423.7 94.1,423.6 95.2,423.6 96.4,423.6 97.6,423.6 98.8,423.6 99.9,423.6 101.1,423.5 102.3,423.5 103.5,423.5 104.6,423.5 105.8,423.5 107,423.4 108.2,423.4 109.3,423.4 110.5,423.4 111.7,423.4 112.9,423.3 114,423.3 115.2,423.3 116.4,423.3 117.6,423.3 118.7,423.2 119.9,423.2 121.1,423.2 122.3,423.2 123.4,423.2 124.6,423.2 125.8,423.2 127,423.1 128.1,423.1 129.3,423.1 130.5,423.1 131.7,423.1 132.8,423.1 134,423.1 135.2,423.1 136.4,423 137.5,423 138.7,423 139.9,423 141.1,423 142.2,423 143.4,423 144.6,423 145.8,423 147,423 148.1,423 149.3,423 150.5,423 151.7,423 152.8,423 154,423 155.2,423 156.4,423 157.5,423 158.7,423 159.9,423.1 161.1,423.1 162.2,423.1 163.4,423.1 164.6,423.1 165.8,423.1 166.9,423.1 168.1,423.1 169.3,423.2 170.5,423.2 171.6,423.2 172.8,423.2 174,423.2 175.2,423.2 176.3,423.3 177.5,423.3 178.7,423.3 179.9,423.3 181,423.3 182.2,423.3 183.4,423.4 184.6,423.4 185.7,423.4 186.9,423.4 188.1,423.4 189.3,423.5 190.4,423.5 191.6,423.5 192.8,423.5 194,423.5 195.1,423.6 196.3,423.6 197.5,423.6 198.7,423.6 199.8,423.6 201,423.7 202.2,423.7 203.4,423.7 204.5,423.7 205.7,423.7 206.9,423.7 208.1,423.8 209.3,423.8 210.4,423.8 211.6,423.8 212.8,423.8 214,423.8 215.1,423.9 216.3,423.9 217.5,423.9 218.7,423.9 219.8,423.9 221,423.9 222.2,424 223.4,424 224.5,424 225.7,424 226.9,424 228.1,424 229.2,424 230.4,424 231.6,424.1 232.8,424.1 233.9,424.1 235.1,424.1 236.3,424.1 237.5,424.1 238.6,424.1 239.8,424.1 241,424.1 242.2,424.2 243.3,424.2 244.5,424.2 245.7,424.2 246.9,424.2 248,424.2 249.2,424.2 250.4,424.2 251.6,424.2 252.7,424.2 253.9,424.2 255.1,424.2 256.3,424.2 257.4,424.3 258.6,424.3 259.8,424.3 261,424.3 262.1,424.3 263.3,424.3 264.5,424.3"/><g fill="none" stroke="#ff0000" stroke-width="1.1"><circle cx="29.4" cy="422.8" r="1.65"/><circle cx="34.1" cy="422.8" r="1.65"/><circle cx="38.8" cy="422.8" r="1.65"/><circle cx="43.5" cy="422.8" r="1.65"/><circle cx="48.2" cy="422.8" r="1.65"/><circle cx="52.9" cy="422.8" r="1.65"/><circle cx="57.6" cy="422.8" r="1.65"/><circle cx="62.3" cy="422.8" r="1.65"/><circle cx="67" cy="422.8" r="1.65"/><circle cx="71.7" cy="422.7" r="1.65"/><circle cx="76.4" cy="422.6" r="1.65"/><circle cx="81.1" cy="422.4" r="1.65"/><circle cx="85.8" cy="422.2" r="1.65"/><circle cx="90.5" cy="422.1" r="1.65"/><circle cx="95.2" cy="421.9" r="1.65"/><circle cx="99.9" cy="421.7" r="1.65"/><circle cx="104.6" cy="421.4" r="1.65"/><circle cx="109.3" cy="421" r="1.65"/><circle cx="114" cy="421" r="1.65"/><circle cx="118.7" cy="420.9" r="1.65"/><circle cx="123.4" cy="420.9" r="1.65"/><circle cx="128.1" cy="420.9" r="1.65"/><circle cx="132.8" cy="420.8" r="1.65"/><circle cx="137.5" cy="420.8" r="1.65"/><circle cx="142.2" cy="420.8" r="1.65"/><circle cx="146.9" cy="420.7" r="1.65"/><circle cx="151.7" cy="420.6" r="1.65"/><circle cx="156.4" cy="420.5" r="1.65"/><circle cx="161.1" cy="420.4" r="1.65"/><circle cx="165.8" cy="420.3" r="1.65"/><circle cx="170.5" cy="420.2" r="1.65"/><circle cx="175.2" cy="420.1" r="1.65"/><circle cx="179.9" cy="420" r="1.65"/><circle cx="184.6" cy="420.1" r="1.65"/><circle cx="189.3" cy="420.2" r="1.65"/><circle cx="194" cy="420.7" r="1.65"/><circle cx="198.7" cy="421.3" r="1.65"/><circle cx="203.4" cy="421.9" r="1.65"/><circle cx="208.1" cy="422.2" r="1.65"/><circle cx="212.8" cy="422.6" r="1.65"/><circle cx="217.5" cy="422.9" r="1.65"/><circle cx="222.2" cy="423" r="1.65"/><circle cx="226.9" cy="423.1" r="1.65"/><circle cx="231.6" cy="423.2" r="1.65"/><circle cx="236.3" cy="423.3" r="1.65"/><circle cx="241" cy="423.3" r="1.65"/><circle cx="245.7" cy="423.4" r="1.65"/><circle cx="250.4" cy="423.5" r="1.65"/><circle cx="255.1" cy="423.6" r="1.65"/><circle cx="259.8" cy="423.6" r="1.65"/><circle cx="264.5" cy="423.7" r="1.65"/></g><polyline fill="none" stroke="#ff0000" stroke-width="1.2" stroke-linejoin="round" points="29.4,422.9 30.6,422.9 31.8,422.9 32.9,422.9 34.1,422.9 35.3,422.9 36.5,422.9 37.6,422.9 38.8,422.9 40,422.9 41.2,422.9 42.3,422.9 43.5,422.9 44.7,422.9 45.9,422.9 47,422.9 48.2,422.9 49.4,422.9 50.6,422.9 51.7,422.9 52.9,422.9 54.1,422.9 55.3,422.9 56.4,422.9 57.6,422.9 58.8,422.9 60,422.9 61.1,422.9 62.3,422.9 63.5,422.9 64.7,422.9 65.8,422.9 67,422.9 68.2,422.9 69.4,422.9 70.5,422.9 71.7,422.8 72.9,422.8 74.1,422.7 75.2,422.7 76.4,422.7 77.6,422.6 78.8,422.6 79.9,422.5 81.1,422.5 82.3,422.4 83.5,422.4 84.6,422.4 85.8,422.3 87,422.3 88.2,422.2 89.4,422.2 90.5,422.2 91.7,422.1 92.9,422.1 94.1,422 95.2,422 96.4,421.9 97.6,421.9 98.8,421.9 99.9,421.8 101.1,421.7 102.3,421.7 103.5,421.6 104.6,421.5 105.8,421.4 107,421.3 108.2,421.2 109.3,421.1 110.5,421.1 111.7,421.1 112.9,421.1 114,421.1 115.2,421.1 116.4,421 117.6,421 118.7,421 119.9,421 121.1,421 122.3,421 123.4,421 124.6,421 125.8,421 127,421 128.1,421 129.3,421 130.5,420.9 131.7,420.9 132.8,420.9 134,420.9 135.2,420.9 136.4,420.9 137.5,420.9 138.7,420.9 139.9,420.9 141.1,420.9 142.2,420.9 143.4,420.8 144.6,420.8 145.8,420.8 147,420.8 148.1,420.8 149.3,420.8 150.5,420.8 151.7,420.7 152.8,420.7 154,420.7 155.2,420.7 156.4,420.6 157.5,420.6 158.7,420.6 159.9,420.6 161.1,420.5 162.2,420.5 163.4,420.5 164.6,420.4 165.8,420.4 166.9,420.4 168.1,420.4 169.3,420.3 170.5,420.3 171.6,420.3 172.8,420.3 174,420.2 175.2,420.2 176.3,420.2 177.5,420.1 178.7,420.1 179.9,420.1 181,420.1 182.2,420.2 183.4,420.2 184.6,420.2 185.7,420.2 186.9,420.3 188.1,420.3 189.3,420.3 190.4,420.4 191.6,420.6 192.8,420.7 194,420.8 195.1,421 196.3,421.1 197.5,421.3 198.7,421.4 199.8,421.6 201,421.7 202.2,421.8 203.4,422 204.5,422.1 205.7,422.2 206.9,422.3 208.1,422.3 209.3,422.4 210.4,422.5 211.6,422.6 212.8,422.7 214,422.7 215.1,422.8 216.3,422.9 217.5,423 218.7,423.1 219.8,423.1 221,423.1 222.2,423.1 223.4,423.2 224.5,423.2 225.7,423.2 226.9,423.2 228.1,423.2 229.2,423.3 230.4,423.3 231.6,423.3 232.8,423.3 233.9,423.3 235.1,423.3 236.3,423.4 237.5,423.4 238.6,423.4 239.8,423.4 241,423.4 242.2,423.5 243.3,423.5 244.5,423.5 245.7,423.5 246.9,423.5 248,423.5 249.2,423.6 250.4,423.6 251.6,423.6 252.7,423.6 253.9,423.6 255.1,423.7 256.3,423.7 257.4,423.7 258.6,423.7 259.8,423.7 261,423.7 262.1,423.8 263.3,423.8 264.5,423.8"/><g fill="none" stroke="#0000ff" stroke-width="1.1"><circle cx="29.4" cy="421.8" r="1.65"/><circle cx="34.1" cy="421.9" r="1.65"/><circle cx="38.8" cy="422" r="1.65"/><circle cx="43.5" cy="422.2" r="1.65"/><circle cx="48.2" cy="422.5" r="1.65"/><circle cx="52.9" cy="422.9" r="1.65"/><circle cx="57.6" cy="423.3" r="1.65"/><circle cx="62.3" cy="423.4" r="1.65"/><circle cx="67" cy="423.5" r="1.65"/><circle cx="71.7" cy="423.3" r="1.65"/><circle cx="76.4" cy="422.9" r="1.65"/><circle cx="81.1" cy="422.6" r="1.65"/><circle cx="85.8" cy="422.1" r="1.65"/><circle cx="90.5" cy="421.3" r="1.65"/><circle cx="95.2" cy="420.5" r="1.65"/><circle cx="99.9" cy="419" r="1.65"/><circle cx="104.6" cy="417.7" r="1.65"/><circle cx="109.3" cy="416.8" r="1.65"/><circle cx="114" cy="416.2" r="1.65"/><circle cx="118.7" cy="415.8" r="1.65"/><circle cx="123.4" cy="415.5" r="1.65"/><circle cx="128.1" cy="415.4" r="1.65"/><circle cx="132.8" cy="415" r="1.65"/><circle cx="137.5" cy="414.6" r="1.65"/><circle cx="142.2" cy="414.4" r="1.65"/><circle cx="146.9" cy="414.4" r="1.65"/><circle cx="151.7" cy="414.5" r="1.65"/><circle cx="156.4" cy="414.6" r="1.65"/><circle cx="161.1" cy="414.7" r="1.65"/><circle cx="165.8" cy="414.9" r="1.65"/><circle cx="170.5" cy="415.1" r="1.65"/><circle cx="175.2" cy="415.3" r="1.65"/><circle cx="179.9" cy="415.7" r="1.65"/><circle cx="184.6" cy="416.5" r="1.65"/><circle cx="189.3" cy="417.6" r="1.65"/><circle cx="194" cy="418.9" r="1.65"/><circle cx="198.7" cy="419.8" r="1.65"/><circle cx="203.4" cy="420.5" r="1.65"/><circle cx="208.1" cy="421.1" r="1.65"/><circle cx="212.8" cy="421.6" r="1.65"/><circle cx="217.5" cy="422" r="1.65"/><circle cx="222.2" cy="422.4" r="1.65"/><circle cx="226.9" cy="422.7" r="1.65"/><circle cx="231.6" cy="422.9" r="1.65"/><circle cx="236.3" cy="423.2" r="1.65"/><circle cx="241" cy="423.3" r="1.65"/><circle cx="245.7" cy="423.4" r="1.65"/><circle cx="250.4" cy="423.5" r="1.65"/><circle cx="255.1" cy="423.6" r="1.65"/><circle cx="259.8" cy="423.6" r="1.65"/><circle cx="264.5" cy="423.7" r="1.65"/></g><polyline fill="none" stroke="#0000ff" stroke-width="1.2" stroke-linejoin="round" points="29.4,422.1 30.6,422.1 31.8,422.1 32.9,422.1 34.1,422.1 35.3,422.1 36.5,422.2 37.6,422.2 38.8,422.2 40,422.2 41.2,422.2 42.3,422.3 43.5,422.3 44.7,422.4 45.9,422.5 47,422.6 48.2,422.6 49.4,422.7 50.6,422.8 51.7,422.9 52.9,423 54.1,423.1 55.3,423.2 56.4,423.2 57.6,423.3 58.8,423.4 60,423.4 61.1,423.4 62.3,423.4 63.5,423.4 64.7,423.5 65.8,423.5 67,423.5 68.2,423.5 69.4,423.5 70.5,423.4 71.7,423.3 72.9,423.2 74.1,423.1 75.2,423 76.4,422.9 77.6,422.8 78.8,422.8 79.9,422.7 81.1,422.6 82.3,422.5 83.5,422.4 84.6,422.3 85.8,422.1 87,421.9 88.2,421.7 89.4,421.5 90.5,421.3 91.7,421.1 92.9,420.9 94.1,420.7 95.2,420.4 96.4,420.1 97.6,419.7 98.8,419.4 99.9,419.1 101.1,418.8 102.3,418.5 103.5,418.2 104.6,417.9 105.8,417.6 107,417.4 108.2,417.1 109.3,416.9 110.5,416.7 111.7,416.6 112.9,416.4 114,416.3 115.2,416.1 116.4,416 117.6,415.9 118.7,415.9 119.9,415.8 121.1,415.7 122.3,415.6 123.4,415.6 124.6,415.5 125.8,415.4 127,415.3 128.1,415.3 129.3,415.2 130.5,415.1 131.7,415 132.8,414.9 134,414.8 135.2,414.8 136.4,414.7 137.5,414.6 138.7,414.5 139.9,414.5 141.1,414.4 142.2,414.4 143.4,414.3 144.6,414.3 145.8,414.3 147,414.3 148.1,414.3 149.3,414.3 150.5,414.3 151.7,414.4 152.8,414.4 154,414.4 155.2,414.4 156.4,414.5 157.5,414.5 158.7,414.5 159.9,414.6 161.1,414.6 162.2,414.7 163.4,414.7 164.6,414.8 165.8,414.8 166.9,414.9 168.1,414.9 169.3,414.9 170.5,415 171.6,415 172.8,415 174,415.1 175.2,415.2 176.3,415.3 177.5,415.4 178.7,415.5 179.9,415.6 181,415.7 182.2,415.9 183.4,416.1 184.6,416.3 185.7,416.6 186.9,416.8 188.1,417.1 189.3,417.5 190.4,417.8 191.6,418.2 192.8,418.5 194,418.8 195.1,419 196.3,419.3 197.5,419.5 198.7,419.8 199.8,420 201,420.1 202.2,420.3 203.4,420.5 204.5,420.6 205.7,420.8 206.9,421 208.1,421.1 209.3,421.3 210.4,421.4 211.6,421.5 212.8,421.6 214,421.7 215.1,421.8 216.3,421.9 217.5,422 218.7,422.1 219.8,422.2 221,422.3 222.2,422.4 223.4,422.5 224.5,422.6 225.7,422.7 226.9,422.7 228.1,422.8 229.2,422.8 230.4,422.9 231.6,422.9 232.8,423 233.9,423 235.1,423.1 236.3,423.2 237.5,423.2 238.6,423.3 239.8,423.3 241,423.3 242.2,423.3 243.3,423.4 244.5,423.4 245.7,423.4 246.9,423.4 248,423.4 249.2,423.5 250.4,423.5 251.6,423.5 252.7,423.5 253.9,423.5 255.1,423.6 256.3,423.6 257.4,423.6 258.6,423.6 259.8,423.6 261,423.6 262.1,423.7 263.3,423.7 264.5,423.7"/><g fill="none" stroke="#008000" stroke-width="1.1"><circle cx="29.4" cy="423.8" r="1.65"/><circle cx="34.1" cy="423.7" r="1.65"/><circle cx="38.8" cy="423.6" r="1.65"/><circle cx="43.5" cy="423.5" r="1.65"/><circle cx="48.2" cy="423.4" r="1.65"/><circle cx="52.9" cy="423.3" r="1.65"/><circle cx="57.6" cy="423.1" r="1.65"/><circle cx="62.3" cy="422.9" r="1.65"/><circle cx="67" cy="422.7" r="1.65"/><circle cx="71.7" cy="422.4" r="1.65"/><circle cx="76.4" cy="422" r="1.65"/><circle cx="81.1" cy="421.6" r="1.65"/><circle cx="85.8" cy="421" r="1.65"/><circle cx="90.5" cy="420.3" r="1.65"/><circle cx="95.2" cy="419.4" r="1.65"/><circle cx="99.9" cy="418.4" r="1.65"/><circle cx="104.6" cy="417.2" r="1.65"/><circle cx="109.3" cy="415.7" r="1.65"/><circle cx="114" cy="414.1" r="1.65"/><circle cx="118.7" cy="412.2" r="1.65"/><circle cx="123.4" cy="410.2" r="1.65"/><circle cx="128.1" cy="408.1" r="1.65"/><circle cx="132.8" cy="406.1" r="1.65"/><circle cx="137.5" cy="404.2" r="1.65"/><circle cx="142.2" cy="402.8" r="1.65"/><circle cx="146.9" cy="402" r="1.65"/><circle cx="151.7" cy="401.8" r="1.65"/><circle cx="156.4" cy="402.5" r="1.65"/><circle cx="161.1" cy="403.8" r="1.65"/><circle cx="165.8" cy="405.5" r="1.65"/><circle cx="170.5" cy="407.5" r="1.65"/><circle cx="175.2" cy="409.6" r="1.65"/><circle cx="179.9" cy="411.6" r="1.65"/><circle cx="184.6" cy="413.5" r="1.65"/><circle cx="189.3" cy="415.2" r="1.65"/><circle cx="194" cy="416.8" r="1.65"/><circle cx="198.7" cy="418.1" r="1.65"/><circle cx="203.4" cy="419.1" r="1.65"/><circle cx="208.1" cy="420.1" r="1.65"/><circle cx="212.8" cy="420.8" r="1.65"/><circle cx="217.5" cy="421.4" r="1.65"/><circle cx="222.2" cy="421.9" r="1.65"/><circle cx="226.9" cy="422.3" r="1.65"/><circle cx="231.6" cy="422.6" r="1.65"/><circle cx="236.3" cy="422.8" r="1.65"/><circle cx="241" cy="423" r="1.65"/><circle cx="245.7" cy="423.2" r="1.65"/><circle cx="250.4" cy="423.4" r="1.65"/><circle cx="255.1" cy="423.5" r="1.65"/><circle cx="259.8" cy="423.6" r="1.65"/><circle cx="264.5" cy="423.7" r="1.65"/></g><polyline fill="none" stroke="#008000" stroke-width="1.2" stroke-linejoin="round" points="29.4,423.8 30.6,423.8 31.8,423.8 32.9,423.7 34.1,423.7 35.3,423.7 36.5,423.7 37.6,423.7 38.8,423.6 40,423.6 41.2,423.6 42.3,423.6 43.5,423.5 44.7,423.5 45.9,423.5 47,423.4 48.2,423.4 49.4,423.4 50.6,423.4 51.7,423.3 52.9,423.3 54.1,423.2 55.3,423.2 56.4,423.2 57.6,423.1 58.8,423.1 60,423 61.1,423 62.3,422.9 63.5,422.9 64.7,422.8 65.8,422.8 67,422.7 68.2,422.6 69.4,422.6 70.5,422.5 71.7,422.4 72.9,422.4 74.1,422.3 75.2,422.2 76.4,422.1 77.6,422 78.8,421.9 79.9,421.8 81.1,421.6 82.3,421.5 83.5,421.4 84.6,421.2 85.8,421.1 87,420.9 88.2,420.8 89.4,420.6 90.5,420.4 91.7,420.2 92.9,420 94.1,419.8 95.2,419.5 96.4,419.3 97.6,419 98.8,418.8 99.9,418.5 101.1,418.2 102.3,417.9 103.5,417.6 104.6,417.2 105.8,416.9 107,416.5 108.2,416.1 109.3,415.7 110.5,415.3 111.7,414.9 112.9,414.5 114,414 115.2,413.5 116.4,413.1 117.6,412.6 118.7,412.1 119.9,411.5 121.1,411 122.3,410.5 123.4,409.9 124.6,409.4 125.8,408.8 127,408.3 128.1,407.7 129.3,407.1 130.5,406.6 131.7,406 132.8,405.5 134,405 135.2,404.5 136.4,404 137.5,403.5 138.7,403.1 139.9,402.6 141.1,402.3 142.2,401.9 143.4,401.6 144.6,401.4 145.8,401.1 147,401 148.1,400.9 149.3,400.8 150.5,400.8 151.7,400.9 152.8,401 154,401.1 155.2,401.3 156.4,401.6 157.5,401.9 158.7,402.2 159.9,402.6 161.1,403 162.2,403.4 163.4,403.9 164.6,404.4 165.8,404.9 166.9,405.4 168.1,405.9 169.3,406.5 170.5,407 171.6,407.6 172.8,408.2 174,408.7 175.2,409.3 176.3,409.8 177.5,410.4 178.7,410.9 179.9,411.4 181,412 182.2,412.5 183.4,413 184.6,413.4 185.7,413.9 186.9,414.4 188.1,414.8 189.3,415.2 190.4,415.7 191.6,416.1 192.8,416.4 194,416.8 195.1,417.2 196.3,417.5 197.5,417.8 198.7,418.1 199.8,418.4 201,418.7 202.2,419 203.4,419.3 204.5,419.5 205.7,419.7 206.9,420 208.1,420.2 209.3,420.4 210.4,420.6 211.6,420.7 212.8,420.9 214,421.1 215.1,421.2 216.3,421.4 217.5,421.5 218.7,421.6 219.8,421.7 221,421.9 222.2,422 223.4,422.1 224.5,422.2 225.7,422.3 226.9,422.3 228.1,422.4 229.2,422.5 230.4,422.6 231.6,422.6 232.8,422.7 233.9,422.8 235.1,422.8 236.3,422.9 237.5,422.9 238.6,423 239.8,423 241,423.1 242.2,423.1 243.3,423.2 244.5,423.2 245.7,423.2 246.9,423.3 248,423.3 249.2,423.3 250.4,423.4 251.6,423.4 252.7,423.4 253.9,423.5 255.1,423.5 256.3,423.5 257.4,423.6 258.6,423.6 259.8,423.6 261,423.6 262.1,423.6 263.3,423.7 264.5,423.7"/><g fill="none" stroke="#000000" stroke-width="1.1"><circle cx="29.4" cy="424.1" r="1.65"/><circle cx="34.1" cy="424" r="1.65"/><circle cx="38.8" cy="423.9" r="1.65"/><circle cx="43.5" cy="423.8" r="1.65"/><circle cx="48.2" cy="423.7" r="1.65"/><circle cx="52.9" cy="423.6" r="1.65"/><circle cx="57.6" cy="423.4" r="1.65"/><circle cx="62.3" cy="423.2" r="1.65"/><circle cx="67" cy="423" r="1.65"/><circle cx="71.7" cy="422.8" r="1.65"/><circle cx="76.4" cy="422.4" r="1.65"/><circle cx="81.1" cy="422" r="1.65"/><circle cx="85.8" cy="421.4" r="1.65"/><circle cx="90.5" cy="420.7" r="1.65"/><circle cx="95.2" cy="419.7" r="1.65"/><circle cx="99.9" cy="418.4" r="1.65"/><circle cx="104.6" cy="416.7" r="1.65"/><circle cx="109.3" cy="414.6" r="1.65"/><circle cx="114" cy="411.9" r="1.65"/><circle cx="118.7" cy="408.8" r="1.65"/><circle cx="123.4" cy="405.2" r="1.65"/><circle cx="128.1" cy="401.3" r="1.65"/><circle cx="132.8" cy="397.4" r="1.65"/><circle cx="137.5" cy="394.1" r="1.65"/><circle cx="142.2" cy="391.9" r="1.65"/><circle cx="146.9" cy="391.3" r="1.65"/><circle cx="151.7" cy="392.5" r="1.65"/><circle cx="156.4" cy="395.2" r="1.65"/><circle cx="161.1" cy="398.6" r="1.65"/><circle cx="165.8" cy="402.3" r="1.65"/><circle cx="170.5" cy="405.8" r="1.65"/><circle cx="175.2" cy="408.9" r="1.65"/><circle cx="179.9" cy="411.7" r="1.65"/><circle cx="184.6" cy="414" r="1.65"/><circle cx="189.3" cy="415.8" r="1.65"/><circle cx="194" cy="417.3" r="1.65"/><circle cx="198.7" cy="418.6" r="1.65"/><circle cx="203.4" cy="419.5" r="1.65"/><circle cx="208.1" cy="420.3" r="1.65"/><circle cx="212.8" cy="420.9" r="1.65"/><circle cx="217.5" cy="421.4" r="1.65"/><circle cx="222.2" cy="421.8" r="1.65"/><circle cx="226.9" cy="422.2" r="1.65"/><circle cx="231.6" cy="422.5" r="1.65"/><circle cx="236.3" cy="422.7" r="1.65"/><circle cx="241" cy="422.9" r="1.65"/><circle cx="245.7" cy="423.1" r="1.65"/><circle cx="250.4" cy="423.3" r="1.65"/><circle cx="255.1" cy="423.4" r="1.65"/><circle cx="259.8" cy="423.6" r="1.65"/><circle cx="264.5" cy="423.7" r="1.65"/></g><polyline fill="none" stroke="#000000" stroke-width="1.2" stroke-linejoin="round" points="29.4,424.1 30.6,424.1 31.8,424.1 32.9,424.1 34.1,424 35.3,424 36.5,424 37.6,424 38.8,424 40,423.9 41.2,423.9 42.3,423.9 43.5,423.9 44.7,423.8 45.9,423.8 47,423.8 48.2,423.7 49.4,423.7 50.6,423.7 51.7,423.6 52.9,423.6 54.1,423.6 55.3,423.5 56.4,423.5 57.6,423.4 58.8,423.4 60,423.4 61.1,423.3 62.3,423.3 63.5,423.2 64.7,423.2 65.8,423.1 67,423.1 68.2,423 69.4,422.9 70.5,422.9 71.7,422.8 72.9,422.7 74.1,422.6 75.2,422.6 76.4,422.5 77.6,422.4 78.8,422.3 79.9,422.2 81.1,422.1 82.3,421.9 83.5,421.8 84.6,421.7 85.8,421.5 87,421.4 88.2,421.2 89.4,421 90.5,420.8 91.7,420.6 92.9,420.3 94.1,420.1 95.2,419.8 96.4,419.5 97.6,419.2 98.8,418.9 99.9,418.5 101.1,418.1 102.3,417.7 103.5,417.3 104.6,416.8 105.8,416.3 107,415.8 108.2,415.2 109.3,414.6 110.5,414 111.7,413.3 112.9,412.6 114,411.8 115.2,411.1 116.4,410.2 117.6,409.4 118.7,408.5 119.9,407.6 121.1,406.6 122.3,405.6 123.4,404.6 124.6,403.6 125.8,402.6 127,401.5 128.1,400.4 129.3,399.4 130.5,398.3 131.7,397.2 132.8,396.2 134,395.2 135.2,394.3 136.4,393.4 137.5,392.5 138.7,391.8 139.9,391.1 141.1,390.6 142.2,390.2 143.4,389.8 144.6,389.7 145.8,389.6 147,389.7 148.1,389.9 149.3,390.2 150.5,390.6 151.7,391.2 152.8,391.8 154,392.5 155.2,393.3 156.4,394.2 157.5,395.1 158.7,396 159.9,397 161.1,398 162.2,399 163.4,400 164.6,401 165.8,402 166.9,402.9 168.1,403.9 169.3,404.8 170.5,405.7 171.6,406.6 172.8,407.4 174,408.2 175.2,409 176.3,409.8 177.5,410.5 178.7,411.2 179.9,411.8 181,412.5 182.2,413.1 183.4,413.6 184.6,414.2 185.7,414.7 186.9,415.2 188.1,415.6 189.3,416.1 190.4,416.5 191.6,416.8 192.8,417.2 194,417.6 195.1,417.9 196.3,418.2 197.5,418.5 198.7,418.8 199.8,419 201,419.3 202.2,419.5 203.4,419.7 204.5,419.9 205.7,420.1 206.9,420.3 208.1,420.4 209.3,420.6 210.4,420.8 211.6,420.9 212.8,421 214,421.2 215.1,421.3 216.3,421.4 217.5,421.5 218.7,421.6 219.8,421.7 221,421.8 222.2,421.9 223.4,422 224.5,422.1 225.7,422.2 226.9,422.3 228.1,422.3 229.2,422.4 230.4,422.5 231.6,422.5 232.8,422.6 233.9,422.7 235.1,422.7 236.3,422.8 237.5,422.8 238.6,422.9 239.8,422.9 241,423 242.2,423 243.3,423.1 244.5,423.1 245.7,423.2 246.9,423.2 248,423.3 249.2,423.3 250.4,423.3 251.6,423.4 252.7,423.4 253.9,423.4 255.1,423.5 256.3,423.5 257.4,423.5 258.6,423.6 259.8,423.6 261,423.6 262.1,423.7 263.3,423.7 264.5,423.7"/></g><rect x="29.4" y="249" width="235.1" height="176.6" fill="none" stroke="#1a1a1a" stroke-width="1.3"/><path d="M29.4 249v2.6M29.4 425.6v-2.6M88.2 249v2.6M88.2 425.6v-2.6M146.9 249v2.6M146.9 425.6v-2.6M205.7 249v2.6M205.7 425.6v-2.6M264.5 249v2.6M264.5 425.6v-2.6" stroke="#1a1a1a" stroke-width="1"/><text class="t" x="29.4" y="440.8" font-size="13.4" text-anchor="middle">0</text><text class="t" x="88.2" y="440.8" font-size="13.4" text-anchor="middle">45</text><text class="t" x="146.9" y="440.8" font-size="13.4" text-anchor="middle">90</text><text class="t" x="205.7" y="440.8" font-size="13.4" text-anchor="middle">135</text><text class="t" x="264.5" y="440.8" font-size="13.4" text-anchor="middle">180</text><text class="t" x="146.9" y="455.7" font-size="13.7" text-anchor="middle">azimuth [°]</text><text class="t" x="0" y="0" font-size="13.7" text-anchor="middle" transform="translate(21.7 337.5) rotate(-90)">intensity [a.u]</text><circle cx="45.9" cy="260.9" r="1.65" fill="none" stroke="#ff00ff" stroke-width="1.1"/><text class="t s" x="55" y="264.5" font-size="10.4">1</text><circle cx="45.9" cy="272.3" r="1.65" fill="none" stroke="#00ff00" stroke-width="1.1"/><text class="t s" x="55" y="275.9" font-size="10.4">2</text><circle cx="45.9" cy="283.8" r="1.65" fill="none" stroke="#ff0000" stroke-width="1.1"/><text class="t s" x="55" y="287.4" font-size="10.4">3</text><circle cx="45.9" cy="295.2" r="1.65" fill="none" stroke="#0000ff" stroke-width="1.1"/><text class="t s" x="55" y="298.9" font-size="10.4">4</text><circle cx="45.9" cy="306.7" r="1.65" fill="none" stroke="#008000" stroke-width="1.1"/><text class="t s" x="55" y="310.3" font-size="10.4">5</text><circle cx="45.9" cy="318.1" r="1.65" fill="none" stroke="#000000" stroke-width="1.1"/><text class="t s" x="55" y="321.8" font-size="10.4">6</text><text class="t s" x="199.7" y="267.7" font-size="10.4">T=24°C</text><text class="t s" x="199.7" y="279.3" font-size="10.4">(001)</text><text class="t s" x="199.7" y="290.9" font-size="10.4">moulded</text><text class="c" x="143.2" y="480.8" font-size="13.6" letter-spacing="-0.4" text-anchor="middle">(<tspan font-weight="bold">c</tspan>)</text></g>
<g><clipPath id="cld"><rect x="297.6" y="249" width="235.3" height="179.6"/></clipPath><g clip-path="url(#cld)"><g fill="none" stroke="#ff00ff" stroke-width="1.1"><circle cx="297.6" cy="423.4" r="1.65"/><circle cx="302.3" cy="423.4" r="1.65"/><circle cx="307" cy="423.4" r="1.65"/><circle cx="311.7" cy="423.4" r="1.65"/><circle cx="316.4" cy="423.4" r="1.65"/><circle cx="321.1" cy="423.4" r="1.65"/><circle cx="325.8" cy="423.4" r="1.65"/><circle cx="330.5" cy="423.4" r="1.65"/><circle cx="335.2" cy="423.4" r="1.65"/><circle cx="340" cy="423.4" r="1.65"/><circle cx="344.7" cy="423.4" r="1.65"/><circle cx="349.4" cy="423.4" r="1.65"/><circle cx="354.1" cy="423.4" r="1.65"/><circle cx="358.8" cy="423.4" r="1.65"/><circle cx="363.5" cy="423.4" r="1.65"/><circle cx="368.2" cy="423.4" r="1.65"/><circle cx="372.9" cy="423.4" r="1.65"/><circle cx="377.6" cy="423.4" r="1.65"/><circle cx="382.3" cy="423.4" r="1.65"/><circle cx="387" cy="423.4" r="1.65"/><circle cx="391.7" cy="423.4" r="1.65"/><circle cx="396.4" cy="423.4" r="1.65"/><circle cx="401.1" cy="423.4" r="1.65"/><circle cx="405.8" cy="423.4" r="1.65"/><circle cx="410.5" cy="423.4" r="1.65"/><circle cx="415.2" cy="423.4" r="1.65"/><circle cx="420" cy="423.4" r="1.65"/><circle cx="424.7" cy="423.4" r="1.65"/><circle cx="429.4" cy="423.4" r="1.65"/><circle cx="434.1" cy="423.4" r="1.65"/><circle cx="438.8" cy="423.4" r="1.65"/><circle cx="443.5" cy="423.4" r="1.65"/><circle cx="448.2" cy="423.4" r="1.65"/><circle cx="452.9" cy="423.4" r="1.65"/><circle cx="457.6" cy="423.4" r="1.65"/><circle cx="462.3" cy="423.4" r="1.65"/><circle cx="467" cy="423.4" r="1.65"/><circle cx="471.7" cy="423.4" r="1.65"/><circle cx="476.4" cy="423.4" r="1.65"/><circle cx="481.1" cy="423.4" r="1.65"/><circle cx="485.8" cy="423.4" r="1.65"/><circle cx="490.5" cy="423.4" r="1.65"/><circle cx="495.3" cy="423.4" r="1.65"/><circle cx="500" cy="423.4" r="1.65"/><circle cx="504.7" cy="423.4" r="1.65"/></g><polyline fill="none" stroke="#ff00ff" stroke-width="1.2" stroke-linejoin="round" points="297.6,425.4 298.8,425.4 300,425.4 301.1,425.4 302.3,425.4 303.5,425.4 304.7,425.4 305.8,425.4 307,425.4 308.2,425.4 309.4,425.4 310.5,425.4 311.7,425.4 312.9,425.4 314.1,425.4 315.2,425.4 316.4,425.4 317.6,425.4 318.8,425.4 320,425.4 321.1,425.4 322.3,425.4 323.5,425.4 324.7,425.4 325.8,425.4 327,425.4 328.2,425.4 329.4,425.4 330.5,425.4 331.7,425.4 332.9,425.4 334.1,425.4 335.2,425.4 336.4,425.4 337.6,425.4 338.8,425.4 340,425.4 341.1,425.4 342.3,425.4 343.5,425.4 344.7,425.4 345.8,425.4 347,425.4 348.2,425.4 349.4,425.4 350.5,425.4 351.7,425.4 352.9,425.4 354.1,425.4 355.2,425.4 356.4,425.4 357.6,425.4 358.8,425.4 360,425.4 361.1,425.4 362.3,425.4 363.5,425.4 364.7,425.4 365.8,425.4 367,425.4 368.2,425.4 369.4,425.4 370.5,425.4 371.7,425.4 372.9,425.4 374.1,425.4 375.2,425.4 376.4,425.4 377.6,425.4 378.8,425.4 380,425.4 381.1,425.4 382.3,425.4 383.5,425.4 384.7,425.4 385.8,425.4 387,425.4 388.2,425.4 389.4,425.4 390.5,425.4 391.7,425.4 392.9,425.4 394.1,425.4 395.2,425.4 396.4,425.4 397.6,425.4 398.8,425.4 400,425.4 401.1,425.4 402.3,425.4 403.5,425.4 404.7,425.4 405.8,425.4 407,425.4 408.2,425.4 409.4,425.4 410.5,425.4 411.7,425.4 412.9,425.4 414.1,425.4 415.3,425.4 416.4,425.4 417.6,425.4 418.8,425.4 420,425.4 421.1,425.4 422.3,425.4 423.5,425.4 424.7,425.4 425.8,425.4 427,425.4 428.2,425.4 429.4,425.4 430.5,425.4 431.7,425.4 432.9,425.4 434.1,425.4 435.3,425.4 436.4,425.4 437.6,425.4 438.8,425.4 440,425.4 441.1,425.4 442.3,425.4 443.5,425.4 444.7,425.4 445.8,425.4 447,425.4 448.2,425.4 449.4,425.4 450.5,425.4 451.7,425.4 452.9,425.4 454.1,425.4 455.3,425.4 456.4,425.4 457.6,425.4 458.8,425.4 460,425.4 461.1,425.4 462.3,425.4 463.5,425.4 464.7,425.4 465.8,425.4 467,425.4 468.2,425.4 469.4,425.4 470.5,425.4 471.7,425.4 472.9,425.4 474.1,425.4 475.3,425.4 476.4,425.4 477.6,425.4 478.8,425.4 480,425.4 481.1,425.4 482.3,425.4 483.5,425.4 484.7,425.4 485.8,425.4 487,425.4 488.2,425.4 489.4,425.4 490.5,425.4 491.7,425.4 492.9,425.4 494.1,425.4 495.3,425.4 496.4,425.4 497.6,425.4 498.8,425.4 500,425.4 501.1,425.4 502.3,425.4 503.5,425.4 504.7,425.4"/><g fill="none" stroke="#00ff00" stroke-width="1.1"><circle cx="297.6" cy="423.4" r="1.65"/><circle cx="302.3" cy="423.4" r="1.65"/><circle cx="307" cy="423.4" r="1.65"/><circle cx="311.7" cy="423.4" r="1.65"/><circle cx="316.4" cy="423.4" r="1.65"/><circle cx="321.1" cy="423.4" r="1.65"/><circle cx="325.8" cy="423.4" r="1.65"/><circle cx="330.5" cy="423.4" r="1.65"/><circle cx="335.2" cy="423.4" r="1.65"/><circle cx="340" cy="423.4" r="1.65"/><circle cx="344.7" cy="423.4" r="1.65"/><circle cx="349.4" cy="423.4" r="1.65"/><circle cx="354.1" cy="423.4" r="1.65"/><circle cx="358.8" cy="423.4" r="1.65"/><circle cx="363.5" cy="423.4" r="1.65"/><circle cx="368.2" cy="423.4" r="1.65"/><circle cx="372.9" cy="423.4" r="1.65"/><circle cx="377.6" cy="423.4" r="1.65"/><circle cx="382.3" cy="423.4" r="1.65"/><circle cx="387" cy="423.4" r="1.65"/><circle cx="391.7" cy="423.4" r="1.65"/><circle cx="396.4" cy="423.4" r="1.65"/><circle cx="401.1" cy="423.4" r="1.65"/><circle cx="405.8" cy="423.4" r="1.65"/><circle cx="410.5" cy="423.4" r="1.65"/><circle cx="415.2" cy="423.4" r="1.65"/><circle cx="420" cy="423.4" r="1.65"/><circle cx="424.7" cy="423.4" r="1.65"/><circle cx="429.4" cy="423.4" r="1.65"/><circle cx="434.1" cy="423.4" r="1.65"/><circle cx="438.8" cy="423.4" r="1.65"/><circle cx="443.5" cy="423.4" r="1.65"/><circle cx="448.2" cy="423.4" r="1.65"/><circle cx="452.9" cy="423.4" r="1.65"/><circle cx="457.6" cy="423.4" r="1.65"/><circle cx="462.3" cy="423.4" r="1.65"/><circle cx="467" cy="423.4" r="1.65"/><circle cx="471.7" cy="423.4" r="1.65"/><circle cx="476.4" cy="423.4" r="1.65"/><circle cx="481.1" cy="423.4" r="1.65"/><circle cx="485.8" cy="423.4" r="1.65"/><circle cx="490.5" cy="423.4" r="1.65"/><circle cx="495.3" cy="423.4" r="1.65"/><circle cx="500" cy="423.4" r="1.65"/><circle cx="504.7" cy="423.4" r="1.65"/></g><polyline fill="none" stroke="#00ff00" stroke-width="1.2" stroke-linejoin="round" points="297.6,425.4 298.8,425.3 300,425.3 301.1,425.3 302.3,425.3 303.5,425.3 304.7,425.3 305.8,425.3 307,425.3 308.2,425.3 309.4,425.3 310.5,425.3 311.7,425.3 312.9,425.3 314.1,425.3 315.2,425.3 316.4,425.3 317.6,425.3 318.8,425.3 320,425.3 321.1,425.3 322.3,425.3 323.5,425.3 324.7,425.3 325.8,425.3 327,425.3 328.2,425.3 329.4,425.3 330.5,425.3 331.7,425.3 332.9,425.3 334.1,425.3 335.2,425.3 336.4,425.3 337.6,425.3 338.8,425.3 340,425.3 341.1,425.3 342.3,425.2 343.5,425.2 344.7,425.2 345.8,425.2 347,425.2 348.2,425.2 349.4,425.2 350.5,425.2 351.7,425.2 352.9,425.2 354.1,425.2 355.2,425.2 356.4,425.2 357.6,425.2 358.8,425.2 360,425.2 361.1,425.1 362.3,425.1 363.5,425.1 364.7,425.1 365.8,425.1 367,425.1 368.2,425.1 369.4,425.1 370.5,425.1 371.7,425.1 372.9,425.1 374.1,425.1 375.2,425 376.4,425 377.6,425 378.8,425 380,425 381.1,425 382.3,425 383.5,425 384.7,425 385.8,425 387,425 388.2,424.9 389.4,424.9 390.5,424.9 391.7,424.9 392.9,424.9 394.1,424.9 395.2,424.9 396.4,424.9 397.6,424.9 398.8,424.9 400,424.9 401.1,424.9 402.3,424.8 403.5,424.8 404.7,424.8 405.8,424.8 407,424.8 408.2,424.8 409.4,424.8 410.5,424.8 411.7,424.8 412.9,424.8 414.1,424.8 415.3,424.8 416.4,424.8 417.6,424.8 418.8,424.8 420,424.8 421.1,424.8 422.3,424.8 423.5,424.8 424.7,424.8 425.8,424.8 427,424.8 428.2,424.8 429.4,424.8 430.5,424.8 431.7,424.8 432.9,424.8 434.1,424.9 435.3,424.9 436.4,424.9 437.6,424.9 438.8,424.9 440,424.9 441.1,424.9 442.3,424.9 443.5,424.9 444.7,424.9 445.8,424.9 447,424.9 448.2,425 449.4,425 450.5,425 451.7,425 452.9,425 454.1,425 455.3,425 456.4,425 457.6,425 458.8,425 460,425 461.1,425.1 462.3,425.1 463.5,425.1 464.7,425.1 465.8,425.1 467,425.1 468.2,425.1 469.4,425.1 470.5,425.1 471.7,425.1 472.9,425.1 474.1,425.1 475.3,425.2 476.4,425.2 477.6,425.2 478.8,425.2 480,425.2 481.1,425.2 482.3,425.2 483.5,425.2 484.7,425.2 485.8,425.2 487,425.2 488.2,425.2 489.4,425.2 490.5,425.2 491.7,425.2 492.9,425.2 494.1,425.3 495.3,425.3 496.4,425.3 497.6,425.3 498.8,425.3 500,425.3 501.1,425.3 502.3,425.3 503.5,425.3 504.7,425.3"/><g fill="none" stroke="#ff0000" stroke-width="1.1"><circle cx="297.6" cy="424.6" r="1.65"/><circle cx="302.3" cy="424.6" r="1.65"/><circle cx="307" cy="424.6" r="1.65"/><circle cx="311.7" cy="424.6" r="1.65"/><circle cx="316.4" cy="424.6" r="1.65"/><circle cx="321.1" cy="424.6" r="1.65"/><circle cx="325.8" cy="424.6" r="1.65"/><circle cx="330.5" cy="424.5" r="1.65"/><circle cx="335.2" cy="424.5" r="1.65"/><circle cx="340" cy="424.5" r="1.65"/><circle cx="344.7" cy="424.5" r="1.65"/><circle cx="349.4" cy="424.5" r="1.65"/><circle cx="354.1" cy="424.5" r="1.65"/><circle cx="358.8" cy="424.5" r="1.65"/><circle cx="363.5" cy="424.5" r="1.65"/><circle cx="368.2" cy="424.4" r="1.65"/><circle cx="372.9" cy="424.4" r="1.65"/><circle cx="377.6" cy="424.4" r="1.65"/><circle cx="382.3" cy="424.4" r="1.65"/><circle cx="387" cy="424.4" r="1.65"/><circle cx="391.7" cy="424.4" r="1.65"/><circle cx="396.4" cy="424.3" r="1.65"/><circle cx="401.1" cy="424.3" r="1.65"/><circle cx="405.8" cy="424.3" r="1.65"/><circle cx="410.5" cy="424.3" r="1.65"/><circle cx="415.2" cy="424.3" r="1.65"/><circle cx="420" cy="424.3" r="1.65"/><circle cx="424.7" cy="424.3" r="1.65"/><circle cx="429.4" cy="424.3" r="1.65"/><circle cx="434.1" cy="424.3" r="1.65"/><circle cx="438.8" cy="424.3" r="1.65"/><circle cx="443.5" cy="424.4" r="1.65"/><circle cx="448.2" cy="424.4" r="1.65"/><circle cx="452.9" cy="424.4" r="1.65"/><circle cx="457.6" cy="424.4" r="1.65"/><circle cx="462.3" cy="424.4" r="1.65"/><circle cx="467" cy="424.4" r="1.65"/><circle cx="471.7" cy="424.5" r="1.65"/><circle cx="476.4" cy="424.5" r="1.65"/><circle cx="481.1" cy="424.5" r="1.65"/><circle cx="485.8" cy="424.5" r="1.65"/><circle cx="490.5" cy="424.5" r="1.65"/><circle cx="495.3" cy="424.5" r="1.65"/><circle cx="500" cy="424.5" r="1.65"/><circle cx="504.7" cy="424.5" r="1.65"/></g><polyline fill="none" stroke="#ff0000" stroke-width="1.2" stroke-linejoin="round" points="297.6,425.1 298.8,425.1 300,425.1 301.1,425.1 302.3,425.1 303.5,425.1 304.7,425.1 305.8,425.1 307,425.1 308.2,425.1 309.4,425.1 310.5,425.1 311.7,425.1 312.9,425.1 314.1,425.1 315.2,425.1 316.4,425.1 317.6,425.1 318.8,425.1 320,425.1 321.1,425.1 322.3,425.1 323.5,425.1 324.7,425.1 325.8,425.1 327,425 328.2,425 329.4,425 330.5,425 331.7,425 332.9,425 334.1,425 335.2,425 336.4,425 337.6,425 338.8,425 340,425 341.1,425 342.3,425 343.5,425 344.7,425 345.8,425 347,425 348.2,425 349.4,425 350.5,425 351.7,425 352.9,425 354.1,425 355.2,425 356.4,425 357.6,425 358.8,425 360,425 361.1,425 362.3,425 363.5,425 364.7,425 365.8,425 367,425 368.2,424.9 369.4,424.9 370.5,424.9 371.7,424.9 372.9,424.9 374.1,424.9 375.2,424.9 376.4,424.9 377.6,424.9 378.8,424.9 380,424.9 381.1,424.9 382.3,424.9 383.5,424.9 384.7,424.9 385.8,424.9 387,424.9 388.2,424.9 389.4,424.9 390.5,424.9 391.7,424.9 392.9,424.9 394.1,424.8 395.2,424.8 396.4,424.8 397.6,424.8 398.8,424.8 400,424.8 401.1,424.8 402.3,424.8 403.5,424.8 404.7,424.8 405.8,424.8 407,424.8 408.2,424.8 409.4,424.8 410.5,424.8 411.7,424.8 412.9,424.8 414.1,424.8 415.3,424.8 416.4,424.8 417.6,424.8 418.8,424.8 420,424.8 421.1,424.8 422.3,424.8 423.5,424.8 424.7,424.8 425.8,424.8 427,424.8 428.2,424.8 429.4,424.8 430.5,424.8 431.7,424.8 432.9,424.8 434.1,424.8 435.3,424.8 436.4,424.8 437.6,424.8 438.8,424.8 440,424.8 441.1,424.8 442.3,424.9 443.5,424.9 444.7,424.9 445.8,424.9 447,424.9 448.2,424.9 449.4,424.9 450.5,424.9 451.7,424.9 452.9,424.9 454.1,424.9 455.3,424.9 456.4,424.9 457.6,424.9 458.8,424.9 460,424.9 461.1,424.9 462.3,424.9 463.5,424.9 464.7,424.9 465.8,424.9 467,424.9 468.2,425 469.4,425 470.5,425 471.7,425 472.9,425 474.1,425 475.3,425 476.4,425 477.6,425 478.8,425 480,425 481.1,425 482.3,425 483.5,425 484.7,425 485.8,425 487,425 488.2,425 489.4,425 490.5,425 491.7,425 492.9,425 494.1,425 495.3,425 496.4,425 497.6,425 498.8,425 500,425 501.1,425 502.3,425 503.5,425 504.7,425"/><g fill="none" stroke="#0000ff" stroke-width="1.1"><circle cx="297.6" cy="423.4" r="1.65"/><circle cx="302.3" cy="423.4" r="1.65"/><circle cx="307" cy="423.4" r="1.65"/><circle cx="311.7" cy="423.4" r="1.65"/><circle cx="316.4" cy="423.4" r="1.65"/><circle cx="321.1" cy="423.4" r="1.65"/><circle cx="325.8" cy="423.4" r="1.65"/><circle cx="330.5" cy="423.4" r="1.65"/><circle cx="335.2" cy="423.4" r="1.65"/><circle cx="340" cy="423.4" r="1.65"/><circle cx="344.7" cy="423.4" r="1.65"/><circle cx="349.4" cy="423.4" r="1.65"/><circle cx="354.1" cy="423.4" r="1.65"/><circle cx="358.8" cy="423.4" r="1.65"/><circle cx="363.5" cy="423.4" r="1.65"/><circle cx="368.2" cy="423.3" r="1.65"/><circle cx="372.9" cy="423.2" r="1.65"/><circle cx="377.6" cy="423.1" r="1.65"/><circle cx="382.3" cy="423" r="1.65"/><circle cx="387" cy="422.9" r="1.65"/><circle cx="391.7" cy="422.8" r="1.65"/><circle cx="396.4" cy="422.7" r="1.65"/><circle cx="401.1" cy="422.6" r="1.65"/><circle cx="405.8" cy="422.5" r="1.65"/><circle cx="410.5" cy="422.4" r="1.65"/><circle cx="415.2" cy="422.4" r="1.65"/><circle cx="420" cy="422.4" r="1.65"/><circle cx="424.7" cy="422.5" r="1.65"/><circle cx="429.4" cy="422.5" r="1.65"/><circle cx="434.1" cy="422.6" r="1.65"/><circle cx="438.8" cy="422.7" r="1.65"/><circle cx="443.5" cy="422.8" r="1.65"/><circle cx="448.2" cy="423" r="1.65"/><circle cx="452.9" cy="423.1" r="1.65"/><circle cx="457.6" cy="423.2" r="1.65"/><circle cx="462.3" cy="423.3" r="1.65"/><circle cx="467" cy="423.4" r="1.65"/><circle cx="471.7" cy="423.4" r="1.65"/><circle cx="476.4" cy="423.4" r="1.65"/><circle cx="481.1" cy="423.4" r="1.65"/><circle cx="485.8" cy="423.4" r="1.65"/><circle cx="490.5" cy="423.4" r="1.65"/><circle cx="495.3" cy="423.4" r="1.65"/><circle cx="500" cy="423.4" r="1.65"/><circle cx="504.7" cy="423.4" r="1.65"/></g><polyline fill="none" stroke="#0000ff" stroke-width="1.2" stroke-linejoin="round" points="297.6,425.2 298.8,425.2 300,425.2 301.1,425.2 302.3,425.2 303.5,425.2 304.7,425.2 305.8,425.2 307,425.2 308.2,425.2 309.4,425.2 310.5,425.2 311.7,425.2 312.9,425.2 314.1,425.2 315.2,425.2 316.4,425.2 317.6,425.2 318.8,425.1 320,425.1 321.1,425.1 322.3,425.1 323.5,425.1 324.7,425.1 325.8,425.1 327,425.1 328.2,425.1 329.4,425.1 330.5,425.1 331.7,425 332.9,425 334.1,425 335.2,425 336.4,425 337.6,425 338.8,425 340,424.9 341.1,424.9 342.3,424.9 343.5,424.9 344.7,424.9 345.8,424.8 347,424.8 348.2,424.8 349.4,424.8 350.5,424.7 351.7,424.7 352.9,424.7 354.1,424.6 355.2,424.6 356.4,424.6 357.6,424.6 358.8,424.5 360,424.5 361.1,424.4 362.3,424.4 363.5,424.4 364.7,424.3 365.8,424.3 367,424.2 368.2,424.2 369.4,424.1 370.5,424.1 371.7,424 372.9,424 374.1,423.9 375.2,423.9 376.4,423.8 377.6,423.8 378.8,423.7 380,423.7 381.1,423.6 382.3,423.5 383.5,423.5 384.7,423.4 385.8,423.4 387,423.3 388.2,423.2 389.4,423.2 390.5,423.1 391.7,423.1 392.9,423 394.1,422.9 395.2,422.9 396.4,422.8 397.6,422.8 398.8,422.7 400,422.7 401.1,422.6 402.3,422.6 403.5,422.5 404.7,422.5 405.8,422.5 407,422.4 408.2,422.4 409.4,422.4 410.5,422.3 411.7,422.3 412.9,422.3 414.1,422.3 415.3,422.3 416.4,422.3 417.6,422.3 418.8,422.3 420,422.3 421.1,422.3 422.3,422.4 423.5,422.4 424.7,422.4 425.8,422.5 427,422.5 428.2,422.5 429.4,422.6 430.5,422.6 431.7,422.7 432.9,422.7 434.1,422.8 435.3,422.8 436.4,422.9 437.6,422.9 438.8,423 440,423.1 441.1,423.1 442.3,423.2 443.5,423.2 444.7,423.3 445.8,423.4 447,423.4 448.2,423.5 449.4,423.5 450.5,423.6 451.7,423.6 452.9,423.7 454.1,423.8 455.3,423.8 456.4,423.9 457.6,423.9 458.8,424 460,424 461.1,424.1 462.3,424.1 463.5,424.2 464.7,424.2 465.8,424.3 467,424.3 468.2,424.4 469.4,424.4 470.5,424.4 471.7,424.5 472.9,424.5 474.1,424.5 475.3,424.6 476.4,424.6 477.6,424.6 478.8,424.7 480,424.7 481.1,424.7 482.3,424.8 483.5,424.8 484.7,424.8 485.8,424.8 487,424.9 488.2,424.9 489.4,424.9 490.5,424.9 491.7,424.9 492.9,425 494.1,425 495.3,425 496.4,425 497.6,425 498.8,425 500,425 501.1,425.1 502.3,425.1 503.5,425.1 504.7,425.1"/><g fill="none" stroke="#008000" stroke-width="1.1"><circle cx="297.6" cy="423.4" r="1.65"/><circle cx="302.3" cy="423.4" r="1.65"/><circle cx="307" cy="423.4" r="1.65"/><circle cx="311.7" cy="423.4" r="1.65"/><circle cx="316.4" cy="423.4" r="1.65"/><circle cx="321.1" cy="423.4" r="1.65"/><circle cx="325.8" cy="423.4" r="1.65"/><circle cx="330.5" cy="423.4" r="1.65"/><circle cx="335.2" cy="423.4" r="1.65"/><circle cx="340" cy="423.4" r="1.65"/><circle cx="344.7" cy="423.4" r="1.65"/><circle cx="349.4" cy="423.4" r="1.65"/><circle cx="354.1" cy="423.2" r="1.65"/><circle cx="358.8" cy="422.9" r="1.65"/><circle cx="363.5" cy="422.5" r="1.65"/><circle cx="368.2" cy="422" r="1.65"/><circle cx="372.9" cy="421.4" r="1.65"/><circle cx="377.6" cy="420.6" r="1.65"/><circle cx="382.3" cy="419.6" r="1.65"/><circle cx="387" cy="418.4" r="1.65"/><circle cx="391.7" cy="417" r="1.65"/><circle cx="396.4" cy="415.6" r="1.65"/><circle cx="401.1" cy="414.1" r="1.65"/><circle cx="405.8" cy="412.7" r="1.65"/><circle cx="410.5" cy="411.5" r="1.65"/><circle cx="415.2" cy="410.6" r="1.65"/><circle cx="420" cy="410.2" r="1.65"/><circle cx="424.7" cy="410.4" r="1.65"/><circle cx="429.4" cy="411" r="1.65"/><circle cx="434.1" cy="412.1" r="1.65"/><circle cx="438.8" cy="413.5" r="1.65"/><circle cx="443.5" cy="414.9" r="1.65"/><circle cx="448.2" cy="416.4" r="1.65"/><circle cx="452.9" cy="417.8" r="1.65"/><circle cx="457.6" cy="419.1" r="1.65"/><circle cx="462.3" cy="420.1" r="1.65"/><circle cx="467" cy="421" r="1.65"/><circle cx="471.7" cy="421.8" r="1.65"/><circle cx="476.4" cy="422.3" r="1.65"/><circle cx="481.1" cy="422.8" r="1.65"/><circle cx="485.8" cy="423.1" r="1.65"/><circle cx="490.5" cy="423.3" r="1.65"/><circle cx="495.3" cy="423.4" r="1.65"/><circle cx="500" cy="423.4" r="1.65"/><circle cx="504.7" cy="423.4" r="1.65"/></g><polyline fill="none" stroke="#008000" stroke-width="1.2" stroke-linejoin="round" points="297.6,425.1 298.8,425.1 300,425.1 301.1,425.1 302.3,425.1 303.5,425.1 304.7,425.1 305.8,425.1 307,425.1 308.2,425.1 309.4,425.1 310.5,425 311.7,425 312.9,425 314.1,425 315.2,425 316.4,425 317.6,425 318.8,425 320,425 321.1,425 322.3,425 323.5,424.9 324.7,424.9 325.8,424.9 327,424.9 328.2,424.9 329.4,424.9 330.5,424.9 331.7,424.9 332.9,424.8 334.1,424.8 335.2,424.8 336.4,424.8 337.6,424.8 338.8,424.7 340,424.7 341.1,424.7 342.3,424.7 343.5,424.6 344.7,424.6 345.8,424.6 347,424.5 348.2,424.5 349.4,424.5 350.5,424.4 351.7,424.4 352.9,424.3 354.1,424.2 355.2,424.2 356.4,424.1 357.6,424 358.8,423.9 360,423.9 361.1,423.8 362.3,423.7 363.5,423.5 364.7,423.4 365.8,423.3 367,423.2 368.2,423 369.4,422.8 370.5,422.7 371.7,422.5 372.9,422.3 374.1,422.1 375.2,421.9 376.4,421.6 377.6,421.4 378.8,421.1 380,420.8 381.1,420.6 382.3,420.3 383.5,419.9 384.7,419.6 385.8,419.3 387,418.9 388.2,418.6 389.4,418.2 390.5,417.8 391.7,417.4 392.9,417 394.1,416.6 395.2,416.2 396.4,415.8 397.6,415.3 398.8,414.9 400,414.5 401.1,414.1 402.3,413.7 403.5,413.3 404.7,412.9 405.8,412.5 407,412.1 408.2,411.8 409.4,411.4 410.5,411.1 411.7,410.9 412.9,410.6 414.1,410.4 415.3,410.2 416.4,410.1 417.6,410 418.8,409.9 420,409.9 421.1,409.9 422.3,410 423.5,410.1 424.7,410.2 425.8,410.4 427,410.6 428.2,410.8 429.4,411.1 430.5,411.4 431.7,411.7 432.9,412.1 434.1,412.5 435.3,412.8 436.4,413.2 437.6,413.6 438.8,414 440,414.5 441.1,414.9 442.3,415.3 443.5,415.7 444.7,416.1 445.8,416.6 447,417 448.2,417.4 449.4,417.8 450.5,418.2 451.7,418.5 452.9,418.9 454.1,419.3 455.3,419.6 456.4,419.9 457.6,420.2 458.8,420.5 460,420.8 461.1,421.1 462.3,421.4 463.5,421.6 464.7,421.8 465.8,422.1 467,422.3 468.2,422.5 469.4,422.7 470.5,422.8 471.7,423 472.9,423.1 474.1,423.3 475.3,423.4 476.4,423.5 477.6,423.6 478.8,423.8 480,423.9 481.1,423.9 482.3,424 483.5,424.1 484.7,424.2 485.8,424.2 487,424.3 488.2,424.4 489.4,424.4 490.5,424.4 491.7,424.5 492.9,424.5 494.1,424.6 495.3,424.6 496.4,424.6 497.6,424.7 498.8,424.7 500,424.7 501.1,424.7 502.3,424.8 503.5,424.8 504.7,424.8"/><g fill="none" stroke="#000000" stroke-width="1.1"><circle cx="297.6" cy="423.4" r="1.65"/><circle cx="302.3" cy="423.4" r="1.65"/><circle cx="307" cy="423.4" r="1.65"/><circle cx="311.7" cy="423.4" r="1.65"/><circle cx="316.4" cy="423.4" r="1.65"/><circle cx="321.1" cy="423.4" r="1.65"/><circle cx="325.8" cy="423.4" r="1.65"/><circle cx="330.5" cy="423.4" r="1.65"/><circle cx="335.2" cy="423.4" r="1.65"/><circle cx="340" cy="423.3" r="1.65"/><circle cx="344.7" cy="423.1" r="1.65"/><circle cx="349.4" cy="422.9" r="1.65"/><circle cx="354.1" cy="422.7" r="1.65"/><circle cx="358.8" cy="422.2" r="1.65"/><circle cx="363.5" cy="421.6" r="1.65"/><circle cx="368.2" cy="420.7" r="1.65"/><circle cx="372.9" cy="419.5" r="1.65"/><circle cx="377.6" cy="417.8" r="1.65"/><circle cx="382.3" cy="415.6" r="1.65"/><circle cx="387" cy="412.8" r="1.65"/><circle cx="391.7" cy="409.6" r="1.65"/><circle cx="396.4" cy="406.2" r="1.65"/><circle cx="401.1" cy="402.7" r="1.65"/><circle cx="405.8" cy="399.6" r="1.65"/><circle cx="410.5" cy="397.4" r="1.65"/><circle cx="415.2" cy="396.5" r="1.65"/><circle cx="420" cy="397.1" r="1.65"/><circle cx="424.7" cy="399" r="1.65"/><circle cx="429.4" cy="402" r="1.65"/><circle cx="434.1" cy="405.4" r="1.65"/><circle cx="438.8" cy="408.9" r="1.65"/><circle cx="443.5" cy="412.1" r="1.65"/><circle cx="448.2" cy="415" r="1.65"/><circle cx="452.9" cy="417.3" r="1.65"/><circle cx="457.6" cy="419.1" r="1.65"/><circle cx="462.3" cy="420.5" r="1.65"/><circle cx="467" cy="421.5" r="1.65"/><circle cx="471.7" cy="422.1" r="1.65"/><circle cx="476.4" cy="422.6" r="1.65"/><circle cx="481.1" cy="422.9" r="1.65"/><circle cx="485.8" cy="423.1" r="1.65"/><circle cx="490.5" cy="423.2" r="1.65"/><circle cx="495.3" cy="423.3" r="1.65"/><circle cx="500" cy="423.4" r="1.65"/><circle cx="504.7" cy="423.4" r="1.65"/></g><polyline fill="none" stroke="#000000" stroke-width="1.2" stroke-linejoin="round" points="297.6,425 298.8,425 300,425 301.1,425 302.3,425 303.5,425 304.7,425 305.8,425 307,425 308.2,425 309.4,425 310.5,425 311.7,424.9 312.9,424.9 314.1,424.9 315.2,424.9 316.4,424.9 317.6,424.9 318.8,424.9 320,424.9 321.1,424.9 322.3,424.8 323.5,424.8 324.7,424.8 325.8,424.8 327,424.8 328.2,424.8 329.4,424.7 330.5,424.7 331.7,424.7 332.9,424.7 334.1,424.7 335.2,424.7 336.4,424.6 337.6,424.6 338.8,424.6 340,424.6 341.1,424.5 342.3,424.5 343.5,424.5 344.7,424.4 345.8,424.4 347,424.4 348.2,424.3 349.4,424.3 350.5,424.2 351.7,424.2 352.9,424.1 354.1,424 355.2,424 356.4,423.9 357.6,423.8 358.8,423.7 360,423.6 361.1,423.4 362.3,423.3 363.5,423.1 364.7,422.9 365.8,422.8 367,422.5 368.2,422.3 369.4,422 370.5,421.7 371.7,421.4 372.9,421.1 374.1,420.7 375.2,420.3 376.4,419.8 377.6,419.3 378.8,418.8 380,418.2 381.1,417.6 382.3,417 383.5,416.3 384.7,415.5 385.8,414.8 387,413.9 388.2,413.1 389.4,412.2 390.5,411.2 391.7,410.3 392.9,409.3 394.1,408.2 395.2,407.2 396.4,406.1 397.6,405.1 398.8,404 400,402.9 401.1,401.9 402.3,400.8 403.5,399.8 404.7,398.9 405.8,398 407,397.1 408.2,396.4 409.4,395.7 410.5,395.1 411.7,394.6 412.9,394.2 414.1,394 415.3,393.8 416.4,393.8 417.6,393.9 418.8,394.1 420,394.5 421.1,395 422.3,395.5 423.5,396.2 424.7,396.9 425.8,397.7 427,398.6 428.2,399.6 429.4,400.6 430.5,401.6 431.7,402.6 432.9,403.7 434.1,404.8 435.3,405.8 436.4,406.9 437.6,407.9 438.8,409 440,410 441.1,411 442.3,411.9 443.5,412.8 444.7,413.7 445.8,414.5 447,415.3 448.2,416.1 449.4,416.8 450.5,417.5 451.7,418.1 452.9,418.7 454.1,419.2 455.3,419.7 456.4,420.2 457.6,420.6 458.8,421 460,421.3 461.1,421.7 462.3,422 463.5,422.2 464.7,422.5 465.8,422.7 467,422.9 468.2,423.1 469.4,423.2 470.5,423.4 471.7,423.5 472.9,423.6 474.1,423.7 475.3,423.8 476.4,423.9 477.6,424 478.8,424.1 480,424.1 481.1,424.2 482.3,424.3 483.5,424.3 484.7,424.3 485.8,424.4 487,424.4 488.2,424.5 489.4,424.5 490.5,424.5 491.7,424.6 492.9,424.6 494.1,424.6 495.3,424.6 496.4,424.6 497.6,424.7 498.8,424.7 500,424.7 501.1,424.7 502.3,424.7 503.5,424.8 504.7,424.8"/></g><rect x="297.6" y="249" width="235.3" height="176.6" fill="none" stroke="#1a1a1a" stroke-width="1.3"/><path d="M297.6 249v2.6M297.6 425.6v-2.6M356.4 249v2.6M356.4 425.6v-2.6M415.2 249v2.6M415.2 425.6v-2.6M474.1 249v2.6M474.1 425.6v-2.6M532.9 249v2.6M532.9 425.6v-2.6" stroke="#1a1a1a" stroke-width="1"/><text class="t" x="297.6" y="440.8" font-size="13.4" text-anchor="middle">90</text><text class="t" x="356.4" y="440.8" font-size="13.4" text-anchor="middle">135</text><text class="t" x="415.2" y="440.8" font-size="13.4" text-anchor="middle">180</text><text class="t" x="474.1" y="440.8" font-size="13.4" text-anchor="middle">225</text><text class="t" x="532.9" y="440.8" font-size="13.4" text-anchor="middle">270</text><text class="t" x="415.2" y="455.7" font-size="13.7" text-anchor="middle">azimuth [°]</text><text class="t" x="0" y="0" font-size="13.7" text-anchor="middle" transform="translate(289.9 337.5) rotate(-90)">intensity [a.u]</text><circle cx="314.1" cy="260.9" r="1.65" fill="none" stroke="#ff00ff" stroke-width="1.1"/><text class="t s" x="323.2" y="264.5" font-size="10.4">1</text><circle cx="314.1" cy="272.3" r="1.65" fill="none" stroke="#00ff00" stroke-width="1.1"/><text class="t s" x="323.2" y="275.9" font-size="10.4">2</text><circle cx="314.1" cy="283.8" r="1.65" fill="none" stroke="#ff0000" stroke-width="1.1"/><text class="t s" x="323.2" y="287.4" font-size="10.4">3</text><circle cx="314.1" cy="295.2" r="1.65" fill="none" stroke="#0000ff" stroke-width="1.1"/><text class="t s" x="323.2" y="298.9" font-size="10.4">4</text><circle cx="314.1" cy="306.7" r="1.65" fill="none" stroke="#008000" stroke-width="1.1"/><text class="t s" x="323.2" y="310.3" font-size="10.4">5</text><circle cx="314.1" cy="318.1" r="1.65" fill="none" stroke="#000000" stroke-width="1.1"/><text class="t s" x="323.2" y="321.8" font-size="10.4">6</text><text class="t s" x="474.6" y="267.7" font-size="10.4">T=24°C</text><text class="t s" x="474.6" y="279.3" font-size="10.4">(020)</text><text class="t s" x="474.6" y="290.9" font-size="10.4">moulded</text><text class="c" x="411.6" y="480.8" font-size="13.6" letter-spacing="-0.4" text-anchor="middle">(<tspan font-weight="bold">d</tspan>)</text></g>
</svg></body></html>
